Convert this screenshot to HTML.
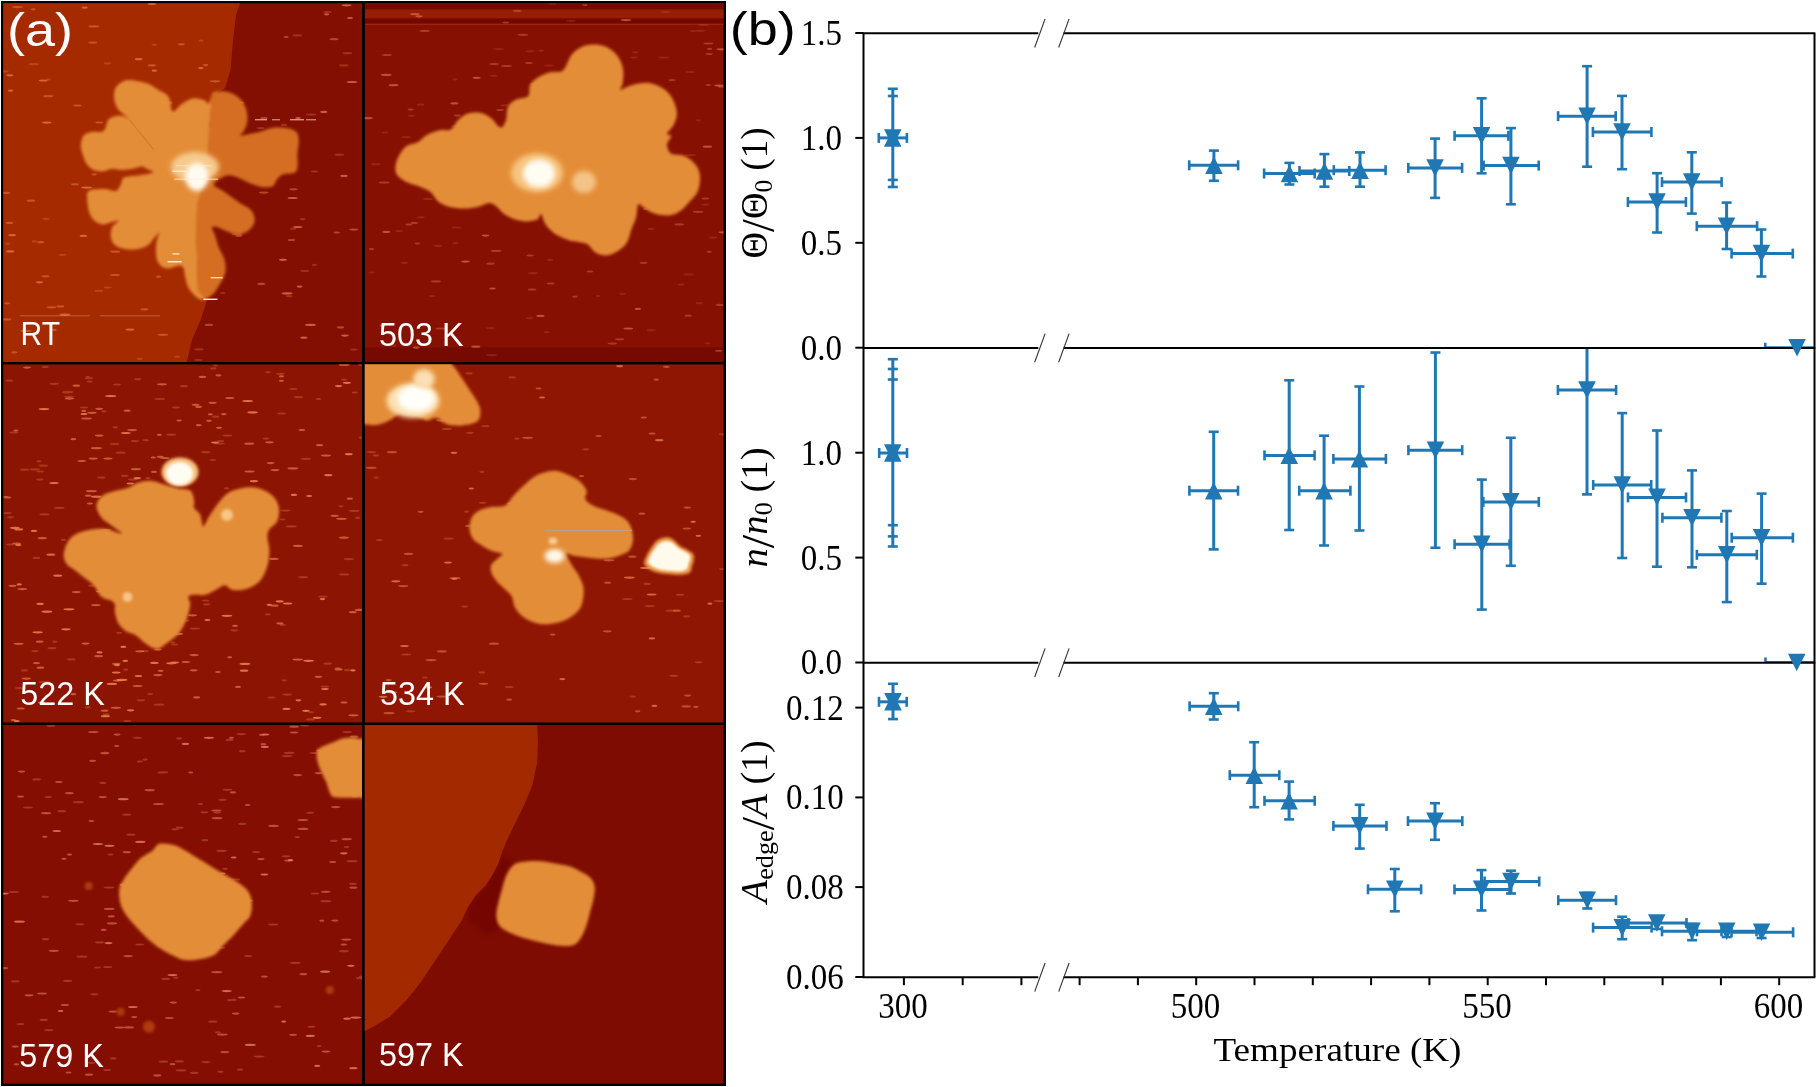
<!DOCTYPE html>
<html><head><meta charset="utf-8"><title>Figure</title>
<style>html,body{margin:0;padding:0;background:#fff;}body{width:1817px;height:1087px;overflow:hidden;}svg{display:block;}</style>
</head><body>
<svg width="1817" height="1087" viewBox="0 0 1817 1087">
<rect x="0" y="0" width="1817" height="1087" fill="#fff"/>
<defs>
<clipPath id="c00"><rect x="3.3" y="3.3" width="358.7" height="358.7"/></clipPath>
<clipPath id="c01"><rect x="3.3" y="364.2" width="358.7" height="358.4"/></clipPath>
<clipPath id="c02"><rect x="3.3" y="724.9" width="358.7" height="358.9"/></clipPath>
<clipPath id="c10"><rect x="364.7" y="3.3" width="358.9" height="358.7"/></clipPath>
<clipPath id="c11"><rect x="364.7" y="364.2" width="358.9" height="358.4"/></clipPath>
<clipPath id="c12"><rect x="364.7" y="724.9" width="358.9" height="358.9"/></clipPath>
<filter id="b05" x="-20%" y="-50%" width="140%" height="200%"><feGaussianBlur stdDeviation="0.7"/></filter>
<filter id="b1" x="-20%" y="-20%" width="140%" height="140%"><feGaussianBlur stdDeviation="1.4"/></filter>
<filter id="b2" x="-50%" y="-50%" width="200%" height="200%"><feGaussianBlur stdDeviation="2.5"/></filter>
<filter id="b3" x="-50%" y="-50%" width="200%" height="200%"><feGaussianBlur stdDeviation="4"/></filter>
<clipPath id="rtlow"><path d="M241,0 L236,15 L233,40 L230.5,70 L225,88 L212,96 L209,130 L208,160 L203,185 L197,205 L196.5,240 L198,290 L207,300 L200.6,320 L191.9,340 L186,365 L365,365 L365,0Z"/></clipPath>
<clipPath id="rtup"><path d="M241,0 L236,15 L233,40 L230.5,70 L225,88 L212,96 L209,130 L208,160 L203,185 L197,205 L196.5,240 L198,290 L207,300 L200.6,320 L191.9,340 L186,365 L0,365 L0,0Z"/></clipPath>
</defs>
<rect x="1" y="1" width="725" height="1085" fill="#000"/>
<g clip-path="url(#c00)">
<rect x="0" y="0" width="365" height="365" fill="#820F02"/>
<path d="M241,0 L236,15 L233,40 L230.5,70 L225,88 L212,96 L209,130 L208,160 L203,185 L197,205 L196.5,240 L198,290 L207,300 L200.6,320 L191.9,340 L186,365 L0,365 L0,0Z" fill="#A62C04" filter="url(#b05)"/>
<g fill="#E8804E" filter="url(#b05)"><g opacity="0.3"><ellipse cx="98.8" cy="290.9" rx="4.3" ry="1.1"/><ellipse cx="339.2" cy="154.7" rx="5" ry="1.1"/><ellipse cx="34.3" cy="241.4" rx="2.8" ry="1.1"/><ellipse cx="190.2" cy="144.4" rx="4" ry="1.1"/><ellipse cx="122.1" cy="218.5" rx="4.9" ry="1.1"/><ellipse cx="289.2" cy="296.2" rx="3.3" ry="1.1"/><ellipse cx="107.4" cy="63.4" rx="3.3" ry="1.1"/><ellipse cx="353.7" cy="349.6" rx="3.8" ry="1.1"/><ellipse cx="84.1" cy="145.8" rx="2.6" ry="1.1"/><ellipse cx="163.2" cy="184.9" rx="3.8" ry="1.1"/><ellipse cx="48.4" cy="79.4" rx="2.6" ry="1.1"/><ellipse cx="311.2" cy="114.6" rx="5.3" ry="1.1"/><ellipse cx="152.6" cy="93.8" rx="2.5" ry="1.1"/><ellipse cx="185.8" cy="138.9" rx="3.5" ry="1.1"/><ellipse cx="284.1" cy="124.9" rx="3.1" ry="1.1"/><ellipse cx="177.1" cy="356.8" rx="3.2" ry="1.1"/><ellipse cx="33.7" cy="64.2" rx="5.2" ry="1.1"/><ellipse cx="201" cy="40.7" rx="2.6" ry="1.1"/><ellipse cx="139.7" cy="358.9" rx="2.9" ry="1.1"/><ellipse cx="134.2" cy="109.3" rx="4.1" ry="1.1"/><ellipse cx="7.7" cy="243.8" rx="2.8" ry="1.1"/><ellipse cx="154.3" cy="44.8" rx="3" ry="1.1"/><ellipse cx="314.5" cy="171.5" rx="3.6" ry="1.1"/><ellipse cx="197.6" cy="113.5" rx="3.2" ry="1.1"/><ellipse cx="297.4" cy="35.4" rx="4.8" ry="1.1"/><ellipse cx="222.6" cy="293" rx="2.8" ry="1.1"/><ellipse cx="314.5" cy="264.9" rx="2.6" ry="1.1"/><ellipse cx="107.6" cy="287.5" rx="4" ry="1.1"/><ellipse cx="343.8" cy="65.4" rx="4.8" ry="1.1"/><ellipse cx="302.7" cy="219.2" rx="2.9" ry="1.1"/><ellipse cx="304.9" cy="271" rx="4.6" ry="1.1"/><ellipse cx="110.5" cy="196.1" rx="2.6" ry="1.1"/><ellipse cx="234.8" cy="135.5" rx="4" ry="1.1"/><ellipse cx="62.5" cy="254.8" rx="3.9" ry="1.1"/><ellipse cx="260.5" cy="128.1" rx="4" ry="1.1"/><ellipse cx="198.5" cy="360" rx="4.1" ry="1.1"/><ellipse cx="293.1" cy="228.7" rx="3.3" ry="1.1"/><ellipse cx="347.5" cy="53.2" rx="4.8" ry="1.1"/><ellipse cx="160.5" cy="226.6" rx="4" ry="1.1"/><ellipse cx="46.1" cy="218.8" rx="3.7" ry="1.1"/><ellipse cx="4.7" cy="71.4" rx="3.8" ry="1.1"/><ellipse cx="131.3" cy="153.9" rx="2.9" ry="1.1"/><ellipse cx="208" cy="140.8" rx="3.4" ry="1.1"/><ellipse cx="327.6" cy="12" rx="4.2" ry="1.1"/><ellipse cx="198.9" cy="349.4" rx="4.8" ry="1.1"/></g><g opacity="0.5"><ellipse cx="51.5" cy="307.3" rx="4.8" ry="1.1"/><ellipse cx="45.6" cy="276.3" rx="3.9" ry="1.1"/><ellipse cx="286.2" cy="37" rx="2.6" ry="1.1"/><ellipse cx="158.5" cy="276.7" rx="2.5" ry="1.1"/><ellipse cx="6.6" cy="319.4" rx="4.6" ry="1.1"/><ellipse cx="263.7" cy="192.6" rx="4.8" ry="1.1"/><ellipse cx="201.6" cy="127.3" rx="4.5" ry="1.1"/><ellipse cx="334.1" cy="39.2" rx="4.4" ry="1.1"/><ellipse cx="144.4" cy="309.4" rx="3.9" ry="1.1"/><ellipse cx="151.9" cy="65.4" rx="4.1" ry="1.1"/><ellipse cx="293.5" cy="189.3" rx="4.2" ry="1.1"/><ellipse cx="75" cy="184.3" rx="4" ry="1.1"/><ellipse cx="33.2" cy="9.3" rx="2.5" ry="1.1"/><ellipse cx="92.8" cy="42.6" rx="4.4" ry="1.1"/><ellipse cx="238.8" cy="235.8" rx="3.4" ry="1.1"/><ellipse cx="181.4" cy="44.3" rx="3.4" ry="1.1"/><ellipse cx="353.7" cy="229.6" rx="4.6" ry="1.1"/><ellipse cx="291.5" cy="240" rx="3.8" ry="1.1"/><ellipse cx="215.1" cy="81.3" rx="5.2" ry="1.1"/><ellipse cx="209" cy="324.9" rx="4.3" ry="1.1"/><ellipse cx="40.8" cy="242.2" rx="3.4" ry="1.1"/><ellipse cx="9.5" cy="222.9" rx="3.7" ry="1.1"/><ellipse cx="99.4" cy="122.5" rx="4" ry="1.1"/><ellipse cx="125.6" cy="224" rx="4.8" ry="1.1"/><ellipse cx="30.8" cy="200.7" rx="4.2" ry="1.1"/><ellipse cx="167.5" cy="102.7" rx="4.9" ry="1.1"/><ellipse cx="60.3" cy="306.4" rx="3.8" ry="1.1"/><ellipse cx="94.2" cy="174.4" rx="2.8" ry="1.1"/><ellipse cx="17.5" cy="7.1" rx="5.4" ry="1.1"/><ellipse cx="263.9" cy="118.2" rx="3.7" ry="1.1"/><ellipse cx="25.9" cy="330.9" rx="5.4" ry="1.1"/><ellipse cx="237.2" cy="234.1" rx="5.3" ry="1.1"/><ellipse cx="54.1" cy="329.9" rx="2.6" ry="1.1"/><ellipse cx="93.9" cy="26.4" rx="5.4" ry="1.1"/><ellipse cx="200.3" cy="197.5" rx="5.1" ry="1.1"/><ellipse cx="7.2" cy="303.3" rx="3" ry="1.1"/><ellipse cx="48.2" cy="96.2" rx="5" ry="1.1"/><ellipse cx="205.6" cy="65.1" rx="2.8" ry="1.1"/><ellipse cx="6" cy="192.9" rx="4" ry="1.1"/><ellipse cx="336.9" cy="232.5" rx="3.2" ry="1.1"/><ellipse cx="180.9" cy="175.1" rx="3.2" ry="1.1"/><ellipse cx="124.2" cy="222.6" rx="4.7" ry="1.1"/><ellipse cx="115.1" cy="251.7" rx="5" ry="1.1"/><ellipse cx="261.4" cy="283.9" rx="4" ry="1.1"/><ellipse cx="162.9" cy="334.8" rx="5.4" ry="1.1"/><ellipse cx="340.5" cy="327.4" rx="3.7" ry="1.1"/><ellipse cx="14.4" cy="352.3" rx="3.2" ry="1.1"/><ellipse cx="77.4" cy="105.5" rx="4.1" ry="1.1"/><ellipse cx="114.9" cy="275" rx="5" ry="1.1"/></g><g opacity="0.7"><ellipse cx="326.6" cy="14.3" rx="2.6" ry="1.1"/><ellipse cx="344.9" cy="335.6" rx="3.7" ry="1.1"/><ellipse cx="46.7" cy="122.6" rx="4.7" ry="1.1"/><ellipse cx="112.1" cy="214.1" rx="5.1" ry="1.1"/><ellipse cx="171.6" cy="114" rx="5" ry="1.1"/><ellipse cx="216.1" cy="144.5" rx="3" ry="1.1"/><ellipse cx="84.7" cy="7.7" rx="3.1" ry="1.1"/><ellipse cx="86.6" cy="187.6" rx="5.4" ry="1.1"/><ellipse cx="130" cy="329.6" rx="4.5" ry="1.1"/><ellipse cx="346.6" cy="5.3" rx="4.9" ry="1.1"/><ellipse cx="344" cy="175.9" rx="3.6" ry="1.1"/><ellipse cx="152" cy="3.9" rx="4.1" ry="1.1"/><ellipse cx="200.9" cy="68.1" rx="2.8" ry="1.1"/><ellipse cx="154.3" cy="70.7" rx="2.8" ry="1.1"/><ellipse cx="83.4" cy="235.9" rx="3.7" ry="1.1"/><ellipse cx="64.8" cy="314.6" rx="5.4" ry="1.1"/><ellipse cx="9.8" cy="75.3" rx="3.5" ry="1.1"/><ellipse cx="303.8" cy="337.7" rx="3.5" ry="1.1"/><ellipse cx="135.3" cy="125.4" rx="3.4" ry="1.1"/><ellipse cx="282.9" cy="259.8" rx="4" ry="1.1"/><ellipse cx="299.6" cy="286.6" rx="3.1" ry="1.1"/><ellipse cx="292.6" cy="198" rx="5" ry="1.1"/><ellipse cx="43.2" cy="80.5" rx="4.4" ry="1.1"/><ellipse cx="350" cy="18" rx="3.1" ry="1.1"/><ellipse cx="323.8" cy="111.9" rx="3.5" ry="1.1"/><ellipse cx="10.6" cy="90.7" rx="2.7" ry="1.1"/><ellipse cx="39.5" cy="282.3" rx="3.5" ry="1.1"/><ellipse cx="298" cy="118" rx="2.8" ry="1.1"/><ellipse cx="297.8" cy="227" rx="4.5" ry="1.1"/><ellipse cx="12.1" cy="235.2" rx="3.8" ry="1.1"/><ellipse cx="10.1" cy="251.4" rx="4.2" ry="1.1"/><ellipse cx="352.1" cy="82" rx="5.3" ry="1.1"/><ellipse cx="310.4" cy="324.9" rx="5.4" ry="1.1"/><ellipse cx="138.6" cy="59.2" rx="3.8" ry="1.1"/><ellipse cx="240.2" cy="102.9" rx="3.6" ry="1.1"/><ellipse cx="287.1" cy="293.4" rx="5.4" ry="1.1"/></g></g>
<g filter="url(#b1)"><path d="M114.2,92.3 C114.7,89.5 115.8,87.1 117.8,85.1 C119.8,83.1 123,81 126.2,80.3 C129.4,79.6 133.2,80.3 137,80.9 C140.8,81.5 145.3,82.4 148.9,83.9 C152.5,85.4 155.5,88.1 158.5,89.9 C161.5,91.7 164.9,92.7 166.9,94.7 C168.9,96.7 169.8,99.5 170.5,101.9 C171.2,104.3 170.5,107.4 171.1,109 C171.7,110.6 172.5,112 174,111.4 C175.5,110.8 177.8,107.2 180,105.4 C182.2,103.6 184.8,101.9 187.2,100.7 C189.6,99.5 192.3,98.6 194.4,98.3 C196.5,98 198.2,98.6 200,99 C201.8,99.4 203.6,99.8 205,100.5 C206.4,101.2 207.4,104.4 208.6,103.5 C209.8,102.6 210.9,96.9 212,95 C213.1,93.1 212.3,92.4 215,91.9 C217.7,91.4 223.9,90.8 228,91.9 C232.1,93 236.5,95.5 239.5,98.3 C242.5,101.1 244.7,104.7 246,108.6 C247.3,112.5 247.7,117.6 247.3,121.5 C246.9,125.4 244.6,129.5 243.4,131.8 C242.2,134.1 239.3,135.1 240,135.5 C240.7,135.9 243.9,135 247.3,134.4 C250.7,133.8 256.1,132.9 260.2,131.8 C264.3,130.7 267.5,128.6 271.8,128 C276.1,127.4 281.8,127.4 285.9,128 C290,128.6 294,129.7 296.2,131.8 C298.4,133.9 298.6,137.2 298.8,140.8 C299,144.5 297.7,149.2 297.5,153.7 C297.3,158.2 298.1,164.7 297.5,167.9 C296.9,171.1 296,171.9 293.6,173 C291.2,174.1 286.1,173.2 283.3,174.3 C280.5,175.4 278.6,177.6 276.9,179.5 C275.2,181.4 275.4,184.6 273,185.9 C270.6,187.2 266.6,187.6 262.7,187.2 C258.8,186.8 253.8,184.8 249.9,183.3 C246,181.8 243.4,179.5 239.5,178.2 C235.6,176.9 230.9,174.6 226.7,175.6 C222.4,176.6 214.7,181.5 214,184 C213.3,186.5 219.6,188.4 222.5,190.6 C225.4,192.8 228.5,194.8 231.5,197 C234.5,199.2 237.4,201.3 240.6,203.5 C243.8,205.7 248.6,207.4 250.9,210 C253.2,212.6 254.5,216.2 254.7,219 C254.9,221.8 253.9,224.3 252.2,226.7 C250.5,229 247.2,231.8 244.4,233.1 C241.6,234.4 238.6,234.8 235.4,234.4 C232.2,234 228.3,231.9 225.1,230.6 C221.9,229.3 218.3,227.1 216.1,226.7 C213.9,226.3 212.2,226.7 212,228 C211.8,229.3 213.7,231.2 214.8,234.4 C215.9,237.6 217.2,243.4 218.7,247.3 C220.2,251.2 222.6,254.2 223.8,257.6 C225,261 225.7,264.7 225.7,267.9 C225.7,271.1 225,274 223.8,277 C222.6,280 220.4,283.2 218.7,286 C217,288.8 215.7,291.6 213.5,293.7 C211.3,295.8 208.2,298 205.8,298.9 C203.4,299.8 201.5,299.8 199.3,298.9 C197.2,298 194.8,295.8 192.9,293.7 C191,291.6 189,288.9 187.7,286 C186.4,283.1 185.7,279 185,276 C184.3,273 184.5,269.7 183.5,268 C182.5,266.3 181.4,265.6 179.2,265.6 C177,265.6 173,268 170.2,268.2 C167.4,268.4 164.6,268.2 162.4,266.9 C160.2,265.6 158.4,263.3 157.3,260.5 C156.2,257.7 156.1,253.6 156,250.2 C155.9,246.8 156.3,243 157,240 C157.7,237 158.8,234 160,232 C161.2,230 164.9,227.1 164,228 C163.1,228.9 157.3,234.5 154.7,237.3 C152.1,240.1 151.1,243.1 148.3,245 C145.5,246.9 141.9,248.2 138,248.9 C134.1,249.6 128.9,249.6 125,248.9 C121.1,248.2 117.1,246.9 114.8,245 C112.5,243.1 111.3,240.3 110.9,237.3 C110.5,234.3 110.9,229.7 112.2,227 C113.5,224.3 118.6,221.9 118.6,221 C118.6,220.1 114.8,221.2 112.2,221.8 C109.6,222.4 106.2,224.6 103.2,224.4 C100.2,224.2 96.6,222.7 94.2,220.5 C91.8,218.3 90.2,215.2 89,211.5 C87.8,207.8 87.3,201.8 87.1,198.6 C86.9,195.4 86.7,193.7 87.7,192.2 C88.7,190.7 89.9,190.1 92.9,189.6 C95.9,189.1 102,188.8 105.8,189 C109.6,189.2 113.5,191.8 116,191 C118.5,190.2 119.7,186.2 121,184 C122.3,181.8 121.2,178.9 124,177.5 C126.8,176.1 133.2,176.3 138,175.5 C142.8,174.7 151.7,173.7 153,172.5 C154.3,171.3 147.9,169.5 146,168.5 C144.1,167.5 144.1,166.3 141.8,166.4 C139.5,166.5 135.6,168.2 132.2,168.8 C128.8,169.4 124.8,170 121.4,170 C118,170 114.9,168.6 111.9,168.8 C108.9,169 106.5,171 103.5,171.2 C100.5,171.4 96.7,171.2 93.9,170 C91.1,168.8 88.5,166.4 86.7,164 C84.9,161.6 84.2,158.5 83.2,155.7 C82.2,152.9 81,150.1 80.8,147.3 C80.6,144.5 81.2,141.1 82,138.9 C82.8,136.7 83.5,135.3 85.5,134.1 C87.5,132.9 91.1,132.2 93.9,131.8 C96.7,131.4 100.3,132.6 102.3,131.8 C104.3,131 104.9,129 105.9,127 C106.9,125 106.7,121.6 108.3,119.8 C109.9,118 112.8,116.8 115.4,116.2 C118,115.6 121.4,115.6 123.8,116.2 C126.2,116.8 129.4,119.8 129.8,119.8 C130.2,119.8 128,117.8 126.2,116.2 C124.4,114.6 120.9,112.6 119,110.2 C117.1,107.8 115.6,104.9 114.8,101.9 C114,98.9 113.7,95.1 114.2,92.3Z" fill="#E48D38" clip-path="url(#rtup)"/><path d="M114.2,92.3 C114.7,89.5 115.8,87.1 117.8,85.1 C119.8,83.1 123,81 126.2,80.3 C129.4,79.6 133.2,80.3 137,80.9 C140.8,81.5 145.3,82.4 148.9,83.9 C152.5,85.4 155.5,88.1 158.5,89.9 C161.5,91.7 164.9,92.7 166.9,94.7 C168.9,96.7 169.8,99.5 170.5,101.9 C171.2,104.3 170.5,107.4 171.1,109 C171.7,110.6 172.5,112 174,111.4 C175.5,110.8 177.8,107.2 180,105.4 C182.2,103.6 184.8,101.9 187.2,100.7 C189.6,99.5 192.3,98.6 194.4,98.3 C196.5,98 198.2,98.6 200,99 C201.8,99.4 203.6,99.8 205,100.5 C206.4,101.2 207.4,104.4 208.6,103.5 C209.8,102.6 210.9,96.9 212,95 C213.1,93.1 212.3,92.4 215,91.9 C217.7,91.4 223.9,90.8 228,91.9 C232.1,93 236.5,95.5 239.5,98.3 C242.5,101.1 244.7,104.7 246,108.6 C247.3,112.5 247.7,117.6 247.3,121.5 C246.9,125.4 244.6,129.5 243.4,131.8 C242.2,134.1 239.3,135.1 240,135.5 C240.7,135.9 243.9,135 247.3,134.4 C250.7,133.8 256.1,132.9 260.2,131.8 C264.3,130.7 267.5,128.6 271.8,128 C276.1,127.4 281.8,127.4 285.9,128 C290,128.6 294,129.7 296.2,131.8 C298.4,133.9 298.6,137.2 298.8,140.8 C299,144.5 297.7,149.2 297.5,153.7 C297.3,158.2 298.1,164.7 297.5,167.9 C296.9,171.1 296,171.9 293.6,173 C291.2,174.1 286.1,173.2 283.3,174.3 C280.5,175.4 278.6,177.6 276.9,179.5 C275.2,181.4 275.4,184.6 273,185.9 C270.6,187.2 266.6,187.6 262.7,187.2 C258.8,186.8 253.8,184.8 249.9,183.3 C246,181.8 243.4,179.5 239.5,178.2 C235.6,176.9 230.9,174.6 226.7,175.6 C222.4,176.6 214.7,181.5 214,184 C213.3,186.5 219.6,188.4 222.5,190.6 C225.4,192.8 228.5,194.8 231.5,197 C234.5,199.2 237.4,201.3 240.6,203.5 C243.8,205.7 248.6,207.4 250.9,210 C253.2,212.6 254.5,216.2 254.7,219 C254.9,221.8 253.9,224.3 252.2,226.7 C250.5,229 247.2,231.8 244.4,233.1 C241.6,234.4 238.6,234.8 235.4,234.4 C232.2,234 228.3,231.9 225.1,230.6 C221.9,229.3 218.3,227.1 216.1,226.7 C213.9,226.3 212.2,226.7 212,228 C211.8,229.3 213.7,231.2 214.8,234.4 C215.9,237.6 217.2,243.4 218.7,247.3 C220.2,251.2 222.6,254.2 223.8,257.6 C225,261 225.7,264.7 225.7,267.9 C225.7,271.1 225,274 223.8,277 C222.6,280 220.4,283.2 218.7,286 C217,288.8 215.7,291.6 213.5,293.7 C211.3,295.8 208.2,298 205.8,298.9 C203.4,299.8 201.5,299.8 199.3,298.9 C197.2,298 194.8,295.8 192.9,293.7 C191,291.6 189,288.9 187.7,286 C186.4,283.1 185.7,279 185,276 C184.3,273 184.5,269.7 183.5,268 C182.5,266.3 181.4,265.6 179.2,265.6 C177,265.6 173,268 170.2,268.2 C167.4,268.4 164.6,268.2 162.4,266.9 C160.2,265.6 158.4,263.3 157.3,260.5 C156.2,257.7 156.1,253.6 156,250.2 C155.9,246.8 156.3,243 157,240 C157.7,237 158.8,234 160,232 C161.2,230 164.9,227.1 164,228 C163.1,228.9 157.3,234.5 154.7,237.3 C152.1,240.1 151.1,243.1 148.3,245 C145.5,246.9 141.9,248.2 138,248.9 C134.1,249.6 128.9,249.6 125,248.9 C121.1,248.2 117.1,246.9 114.8,245 C112.5,243.1 111.3,240.3 110.9,237.3 C110.5,234.3 110.9,229.7 112.2,227 C113.5,224.3 118.6,221.9 118.6,221 C118.6,220.1 114.8,221.2 112.2,221.8 C109.6,222.4 106.2,224.6 103.2,224.4 C100.2,224.2 96.6,222.7 94.2,220.5 C91.8,218.3 90.2,215.2 89,211.5 C87.8,207.8 87.3,201.8 87.1,198.6 C86.9,195.4 86.7,193.7 87.7,192.2 C88.7,190.7 89.9,190.1 92.9,189.6 C95.9,189.1 102,188.8 105.8,189 C109.6,189.2 113.5,191.8 116,191 C118.5,190.2 119.7,186.2 121,184 C122.3,181.8 121.2,178.9 124,177.5 C126.8,176.1 133.2,176.3 138,175.5 C142.8,174.7 151.7,173.7 153,172.5 C154.3,171.3 147.9,169.5 146,168.5 C144.1,167.5 144.1,166.3 141.8,166.4 C139.5,166.5 135.6,168.2 132.2,168.8 C128.8,169.4 124.8,170 121.4,170 C118,170 114.9,168.6 111.9,168.8 C108.9,169 106.5,171 103.5,171.2 C100.5,171.4 96.7,171.2 93.9,170 C91.1,168.8 88.5,166.4 86.7,164 C84.9,161.6 84.2,158.5 83.2,155.7 C82.2,152.9 81,150.1 80.8,147.3 C80.6,144.5 81.2,141.1 82,138.9 C82.8,136.7 83.5,135.3 85.5,134.1 C87.5,132.9 91.1,132.2 93.9,131.8 C96.7,131.4 100.3,132.6 102.3,131.8 C104.3,131 104.9,129 105.9,127 C106.9,125 106.7,121.6 108.3,119.8 C109.9,118 112.8,116.8 115.4,116.2 C118,115.6 121.4,115.6 123.8,116.2 C126.2,116.8 129.4,119.8 129.8,119.8 C130.2,119.8 128,117.8 126.2,116.2 C124.4,114.6 120.9,112.6 119,110.2 C117.1,107.8 115.6,104.9 114.8,101.9 C114,98.9 113.7,95.1 114.2,92.3Z" fill="#D56E22" clip-path="url(#rtlow)"/></g>
<path d="M129.8,119.8 L140,133 L153.7,149.7" stroke="#C86A28" stroke-width="1.2" opacity="0.6" fill="none" filter="url(#b05)"/>
<ellipse cx="195" cy="167" rx="24" ry="15" fill="#F6CA8C" filter="url(#b2)"/>
<ellipse cx="197" cy="177" rx="11.5" ry="14" fill="#FFFBF0" filter="url(#b2)"/>
<g fill="#FFF0DC" filter="url(#b05)"><rect x="172.4" y="170.6" width="14" height="1.4" opacity="0.9"/><rect x="167.6" y="261" width="14" height="1.4" opacity="1"/><rect x="203.5" y="298.6" width="14" height="1.4" opacity="1"/><rect x="172.4" y="253.2" width="7" height="1.4" opacity="0.8"/><rect x="210.7" y="277" width="12" height="1.4" opacity="0.8"/><rect x="174" y="178.5" width="44" height="1.4" opacity="0.6"/><rect x="176" y="165" width="36" height="1.4" opacity="0.5"/><rect x="255" y="119" width="12" height="1.4" opacity="0.6"/><rect x="272" y="119" width="8" height="1.4" opacity="0.5"/><rect x="290" y="119" width="14" height="1.4" opacity="0.6"/><rect x="306" y="119" width="10" height="1.4" opacity="0.5"/><rect x="100" y="315" width="60" height="1.4" opacity="0.2"/><rect x="20" y="315" width="70" height="1.4" opacity="0.2"/></g>
</g>
<g clip-path="url(#c10)">
<rect x="364.7" y="0" width="365" height="365" fill="#861002"/>
<rect x="364.7" y="3" width="365" height="6.5" fill="#760900"/>
<rect x="364.7" y="9.5" width="365" height="9" fill="#951E04"/>
<rect x="364.7" y="18.5" width="365" height="4.5" fill="#730800"/>
<rect x="364.7" y="24" width="365" height="1" fill="#A0300C" opacity="0.7"/>
<rect x="364.7" y="347.5" width="365" height="16" fill="#760A00"/>
<g fill="#E87A50" filter="url(#b05)"><g opacity="0.2"><ellipse cx="707.8" cy="343.3" rx="2.7" ry="1.1"/><ellipse cx="455" cy="79.4" rx="2.6" ry="1.1"/><ellipse cx="690.5" cy="155.2" rx="5.2" ry="1.1"/><ellipse cx="491.7" cy="355.2" rx="5.4" ry="1.1"/><ellipse cx="539.3" cy="82.9" rx="3.5" ry="1.1"/><ellipse cx="681.3" cy="284.6" rx="3.5" ry="1.1"/><ellipse cx="690.5" cy="72" rx="4.7" ry="1.1"/><ellipse cx="570.9" cy="20.8" rx="4.3" ry="1.1"/><ellipse cx="635.4" cy="52.3" rx="3.3" ry="1.1"/><ellipse cx="703.4" cy="25" rx="5.2" ry="1.1"/><ellipse cx="385.1" cy="132.5" rx="3.2" ry="1.1"/><ellipse cx="394.5" cy="345.7" rx="2.6" ry="1.1"/><ellipse cx="498.6" cy="49.1" rx="5.3" ry="1.1"/><ellipse cx="552.4" cy="4" rx="4.3" ry="1.1"/><ellipse cx="375.8" cy="164.2" rx="4.8" ry="1.1"/><ellipse cx="688.4" cy="274.4" rx="5.1" ry="1.1"/><ellipse cx="665.6" cy="12" rx="4.9" ry="1.1"/><ellipse cx="713.1" cy="237.6" rx="4.6" ry="1.1"/><ellipse cx="605.4" cy="94" rx="2.9" ry="1.1"/><ellipse cx="399.1" cy="231.1" rx="4" ry="1.1"/><ellipse cx="634.1" cy="57.5" rx="3.7" ry="1.1"/><ellipse cx="404.6" cy="262.9" rx="3.2" ry="1.1"/><ellipse cx="371.8" cy="272.5" rx="2.8" ry="1.1"/><ellipse cx="700.4" cy="30.8" rx="4.8" ry="1.1"/><ellipse cx="406.2" cy="137.2" rx="4.6" ry="1.1"/><ellipse cx="635.2" cy="145" rx="2.9" ry="1.1"/><ellipse cx="699.2" cy="303.2" rx="3.4" ry="1.1"/><ellipse cx="420.8" cy="217.3" rx="4.1" ry="1.1"/><ellipse cx="427.9" cy="198.9" rx="4.9" ry="1.1"/><ellipse cx="651.3" cy="330.2" rx="4.5" ry="1.1"/><ellipse cx="550.1" cy="259.9" rx="3.3" ry="1.1"/><ellipse cx="622.7" cy="293.8" rx="3.6" ry="1.1"/><ellipse cx="493.9" cy="199.7" rx="4.6" ry="1.1"/><ellipse cx="432.1" cy="296.1" rx="3.6" ry="1.1"/><ellipse cx="598" cy="296" rx="2.6" ry="1.1"/><ellipse cx="626.5" cy="220.8" rx="5.2" ry="1.1"/><ellipse cx="549" cy="65.6" rx="4.6" ry="1.1"/><ellipse cx="490.4" cy="328.2" rx="4.1" ry="1.1"/><ellipse cx="529.5" cy="318.1" rx="3.9" ry="1.1"/><ellipse cx="456.3" cy="227.5" rx="5" ry="1.1"/><ellipse cx="420.6" cy="104.7" rx="3.9" ry="1.1"/><ellipse cx="438.1" cy="245.9" rx="4" ry="1.1"/><ellipse cx="538.3" cy="196.5" rx="5.2" ry="1.1"/><ellipse cx="599.2" cy="144.3" rx="5" ry="1.1"/><ellipse cx="547.2" cy="78.8" rx="4.3" ry="1.1"/><ellipse cx="651.1" cy="228.9" rx="3.4" ry="1.1"/><ellipse cx="705.5" cy="204.6" rx="4.1" ry="1.1"/><ellipse cx="530.2" cy="51.3" rx="4.7" ry="1.1"/><ellipse cx="698.3" cy="120.3" rx="2.8" ry="1.1"/><ellipse cx="533" cy="273.2" rx="5" ry="1.1"/><ellipse cx="504.6" cy="105.4" rx="4.4" ry="1.1"/><ellipse cx="493.8" cy="75.8" rx="4" ry="1.1"/><ellipse cx="454.5" cy="126.2" rx="3.2" ry="1.1"/><ellipse cx="693.1" cy="31" rx="3.4" ry="1.1"/><ellipse cx="455.5" cy="243.2" rx="3.2" ry="1.1"/><ellipse cx="541.3" cy="50.6" rx="2.8" ry="1.1"/><ellipse cx="546.7" cy="332.2" rx="3" ry="1.1"/><ellipse cx="663.8" cy="57.6" rx="5.4" ry="1.1"/><ellipse cx="411.5" cy="115.8" rx="3.4" ry="1.1"/></g><g opacity="0.4"><ellipse cx="494.3" cy="64" rx="4.9" ry="1.1"/><ellipse cx="705.4" cy="198.5" rx="3.8" ry="1.1"/><ellipse cx="688.1" cy="315.7" rx="3.6" ry="1.1"/><ellipse cx="565.9" cy="88" rx="2.6" ry="1.1"/><ellipse cx="606.8" cy="68.5" rx="5.2" ry="1.1"/><ellipse cx="663.1" cy="130.3" rx="5.1" ry="1.1"/><ellipse cx="490.6" cy="263.7" rx="4.2" ry="1.1"/><ellipse cx="679.3" cy="224.4" rx="4.8" ry="1.1"/><ellipse cx="566.5" cy="185.3" rx="4.3" ry="1.1"/><ellipse cx="590" cy="271.5" rx="3.4" ry="1.1"/><ellipse cx="534.4" cy="84.2" rx="4.5" ry="1.1"/><ellipse cx="550.7" cy="283.5" rx="4" ry="1.1"/><ellipse cx="721.6" cy="86.7" rx="3.8" ry="1.1"/><ellipse cx="551.6" cy="169.9" rx="3.4" ry="1.1"/><ellipse cx="440.9" cy="328.5" rx="5.4" ry="1.1"/><ellipse cx="517.4" cy="10.9" rx="4.3" ry="1.1"/><ellipse cx="698.1" cy="211.8" rx="5.3" ry="1.1"/><ellipse cx="496.2" cy="250.9" rx="5.3" ry="1.1"/><ellipse cx="371.5" cy="249.1" rx="2.8" ry="1.1"/><ellipse cx="435.9" cy="281.4" rx="5" ry="1.1"/><ellipse cx="584.9" cy="5.2" rx="2.6" ry="1.1"/><ellipse cx="408.8" cy="224.5" rx="3.5" ry="1.1"/><ellipse cx="709.1" cy="251.8" rx="2.6" ry="1.1"/><ellipse cx="643.6" cy="262.8" rx="4" ry="1.1"/><ellipse cx="709.1" cy="54" rx="3.6" ry="1.1"/><ellipse cx="553.6" cy="174.6" rx="5.4" ry="1.1"/><ellipse cx="575" cy="296.7" rx="2.8" ry="1.1"/><ellipse cx="410.8" cy="109.6" rx="3.2" ry="1.1"/><ellipse cx="718.8" cy="350.8" rx="3.8" ry="1.1"/><ellipse cx="530.1" cy="255.5" rx="3.7" ry="1.1"/><ellipse cx="645.7" cy="209" rx="2.9" ry="1.1"/><ellipse cx="505.7" cy="22.5" rx="3.3" ry="1.1"/><ellipse cx="619.7" cy="339.3" rx="4.6" ry="1.1"/><ellipse cx="477" cy="191.1" rx="5.2" ry="1.1"/><ellipse cx="504.7" cy="203.4" rx="4.9" ry="1.1"/><ellipse cx="414.2" cy="222.9" rx="3.8" ry="1.1"/><ellipse cx="635.6" cy="177.3" rx="4.5" ry="1.1"/><ellipse cx="584.9" cy="128" rx="4.8" ry="1.1"/><ellipse cx="384.1" cy="182.5" rx="5.5" ry="1.1"/><ellipse cx="496.2" cy="196.3" rx="3.6" ry="1.1"/><ellipse cx="457.3" cy="115.6" rx="3.5" ry="1.1"/><ellipse cx="708.4" cy="43.5" rx="5" ry="1.1"/><ellipse cx="672.1" cy="80" rx="3.6" ry="1.1"/><ellipse cx="528.9" cy="63" rx="3.8" ry="1.1"/><ellipse cx="591.9" cy="146.9" rx="5" ry="1.1"/><ellipse cx="612.3" cy="343.6" rx="4.7" ry="1.1"/><ellipse cx="555.6" cy="231.8" rx="2.7" ry="1.1"/><ellipse cx="506.5" cy="66" rx="5.4" ry="1.1"/><ellipse cx="522.9" cy="34.8" rx="5.3" ry="1.1"/><ellipse cx="709.5" cy="48.9" rx="2.6" ry="1.1"/><ellipse cx="424.7" cy="30.9" rx="5.1" ry="1.1"/><ellipse cx="646" cy="122.1" rx="2.9" ry="1.1"/><ellipse cx="386.8" cy="55" rx="5.1" ry="1.1"/><ellipse cx="708.3" cy="85" rx="2.7" ry="1.1"/><ellipse cx="579.2" cy="214.2" rx="4.1" ry="1.1"/><ellipse cx="719.6" cy="304.9" rx="3.9" ry="1.1"/><ellipse cx="503.2" cy="165.7" rx="5.1" ry="1.1"/><ellipse cx="417.4" cy="243.5" rx="2.8" ry="1.1"/><ellipse cx="382.6" cy="325.7" rx="3.2" ry="1.1"/><ellipse cx="485.9" cy="192.9" rx="3.2" ry="1.1"/><ellipse cx="532.1" cy="289.5" rx="4.3" ry="1.1"/><ellipse cx="500.1" cy="110" rx="3.8" ry="1.1"/><ellipse cx="566.6" cy="172.9" rx="3.4" ry="1.1"/></g><g opacity="0.6"><ellipse cx="723.5" cy="232.3" rx="4.9" ry="1.1"/><ellipse cx="427" cy="186.3" rx="3.6" ry="1.1"/><ellipse cx="628.3" cy="328.5" rx="4.8" ry="1.1"/><ellipse cx="707.4" cy="146.7" rx="4.7" ry="1.1"/><ellipse cx="454.4" cy="103.4" rx="4" ry="1.1"/><ellipse cx="475.8" cy="346.7" rx="4.6" ry="1.1"/><ellipse cx="476.6" cy="77.8" rx="4" ry="1.1"/><ellipse cx="419" cy="16.3" rx="3.5" ry="1.1"/><ellipse cx="416.3" cy="347.6" rx="3.3" ry="1.1"/><ellipse cx="393.6" cy="85.2" rx="4.9" ry="1.1"/><ellipse cx="619.3" cy="95.3" rx="3.8" ry="1.1"/><ellipse cx="496.1" cy="189.5" rx="5.3" ry="1.1"/><ellipse cx="386.2" cy="231.9" rx="3.9" ry="1.1"/><ellipse cx="522.2" cy="191.3" rx="2.8" ry="1.1"/><ellipse cx="638" cy="308.9" rx="3.2" ry="1.1"/><ellipse cx="631.8" cy="213.6" rx="3.1" ry="1.1"/><ellipse cx="492.5" cy="288.5" rx="3.2" ry="1.1"/><ellipse cx="465.5" cy="261.6" rx="4.3" ry="1.1"/><ellipse cx="367.7" cy="118.2" rx="5" ry="1.1"/><ellipse cx="626" cy="20.1" rx="5.3" ry="1.1"/><ellipse cx="523.9" cy="100.8" rx="3.5" ry="1.1"/><ellipse cx="668.1" cy="124.6" rx="4.8" ry="1.1"/><ellipse cx="540.5" cy="315.9" rx="4.1" ry="1.1"/><ellipse cx="721.9" cy="49.3" rx="5.3" ry="1.1"/><ellipse cx="414.8" cy="14.2" rx="4.6" ry="1.1"/><ellipse cx="386.3" cy="74.9" rx="5.3" ry="1.1"/><ellipse cx="485.6" cy="235.6" rx="3.7" ry="1.1"/><ellipse cx="718.9" cy="85.5" rx="4.6" ry="1.1"/></g></g>
<path d="M395.5,166.2 C395.8,162.8 397.3,158.6 399.2,155.2 C401.1,151.8 403.5,148.2 406.6,146 C409.7,143.8 414.2,144.2 417.6,142.3 C421,140.5 423.1,136.9 426.8,134.9 C430.5,132.9 435.7,131.2 439.7,130.3 C443.7,129.4 447.6,131.1 450.7,129.4 C453.8,127.7 455.3,122.8 458.1,120.2 C460.9,117.6 463.6,114.9 467.3,113.7 C471,112.5 476.2,112 480.2,112.8 C484.2,113.6 487.8,115.8 491.2,118.3 C494.6,120.8 497.9,127.3 500.4,127.6 C502.9,127.9 504.8,123.6 506,120.2 C507.2,116.8 506.3,110.7 507.8,107.3 C509.3,103.9 511.8,101.7 515.2,99.9 C518.6,98.1 525.5,98.8 528,96.3 C530.5,93.8 528.4,88.3 529.9,85.2 C531.4,82.1 533.8,80.1 537.2,77.9 C540.6,75.8 545.8,73.5 550.1,72.3 C554.4,71.1 559.4,73.5 563,70.5 C566.6,67.5 568.3,58.5 572,54.3 C575.7,50.1 580.1,47 585.2,45.5 C590.4,44 597.8,44 602.9,45.5 C608,47 612.8,50.6 616.1,54.3 C619.4,58 621.7,62.7 622.8,67.5 C623.9,72.3 623.2,79.3 622.8,83 C622.4,86.7 619,89.2 620.5,89.6 C622,90 626.8,86.3 631.6,85.2 C636.4,84.1 643.8,82.3 649.3,83 C654.8,83.7 660.7,86.6 664.7,89.6 C668.7,92.5 671.5,96.7 673.5,100.7 C675.5,104.8 676.9,109.9 676.9,113.9 C676.9,118 675.1,121.7 673.5,125 C671.9,128.3 667.4,132 667,133.8 C666.6,135.6 671.3,134.2 671.3,136 C671.3,137.8 667,141.9 667,144.8 C667,147.8 668.4,151.8 671.3,153.7 C674.2,155.5 680.5,154.1 684.6,155.9 C688.7,157.7 693,161.4 695.6,164.7 C698.2,168 699.6,171.4 700,175.8 C700.4,180.2 699.6,186.8 697.8,191.2 C696,195.6 691.9,199 689,202.3 C686.1,205.6 683.5,208.9 680.2,211.1 C676.9,213.3 673.5,215.1 669.1,215.5 C664.7,215.9 658.1,214.8 653.7,213.3 C649.3,211.8 645.2,208.2 642.6,206.7 C640,205.2 639.3,202.7 638.2,204.5 C637.1,206.3 637.1,213.6 636,217.7 C634.9,221.8 633.1,224.8 631.6,228.8 C630.1,232.9 629.4,238.3 627.2,242 C625,245.7 621.6,248.6 618.3,250.8 C615,253 611,254.9 607.3,255.3 C603.6,255.7 599.6,254.8 596.3,253 C593,251.2 590.3,246 587.4,244.2 C584.5,242.4 581.9,242.7 578.6,242 C575.3,241.3 571.5,241.3 567.5,239.8 C563.5,238.3 558,235.8 554.3,233.2 C550.6,230.6 547.7,227.5 545.5,224.3 C543.3,221.1 542.4,214.8 541,214 C539.6,213.2 539.7,218.4 537.2,219.6 C534.7,220.8 529.9,221.4 526.2,221.4 C522.5,221.4 518.9,220.8 515.2,219.6 C511.5,218.4 507.2,216.2 504.1,214.1 C501,211.9 499.2,208.5 496.8,206.7 C494.4,204.8 492.5,203 489.4,203 C486.3,203 482.6,205.8 478.3,206.7 C474,207.6 468.5,208.5 463.6,208.5 C458.7,208.5 453.2,207.9 448.9,206.7 C444.6,205.5 441,203.6 437.9,201.2 C434.8,198.8 433.6,194.4 430.5,192 C427.4,189.6 423.1,188 419.4,186.5 C415.7,185 412.1,184.7 408.4,182.8 C404.7,181 399.5,178.2 397.4,175.4 C395.2,172.6 395.2,169.6 395.5,166.2Z" fill="#E48D38" filter="url(#b1)"/>
<ellipse cx="537" cy="172.7" rx="26" ry="19.5" fill="#F6C47E" filter="url(#b2)"/>
<ellipse cx="539" cy="173.5" rx="16" ry="14" fill="#FFFCF2" filter="url(#b2)"/>
<ellipse cx="584" cy="182" rx="12" ry="11" fill="#F4C486" filter="url(#b2)"/>
</g>
<g clip-path="url(#c01)">
<rect x="0" y="364.2" width="365" height="365" fill="#8C1402"/>
<g fill="#F08A58" filter="url(#b05)"><g opacity="0.3"><ellipse cx="197.3" cy="561.2" rx="3.7" ry="1.1"/><ellipse cx="145" cy="651.2" rx="3.8" ry="1.1"/><ellipse cx="318.5" cy="399.1" rx="2.9" ry="1.1"/><ellipse cx="213.2" cy="573.6" rx="5.2" ry="1.1"/><ellipse cx="310.5" cy="719.4" rx="4.5" ry="1.1"/><ellipse cx="35.1" cy="651.1" rx="3.7" ry="1.1"/><ellipse cx="10.5" cy="517.3" rx="3.7" ry="1.1"/><ellipse cx="87.9" cy="377.1" rx="2.5" ry="1.1"/><ellipse cx="7.4" cy="513" rx="4.2" ry="1.1"/><ellipse cx="268" cy="372.2" rx="2.7" ry="1.1"/><ellipse cx="306" cy="458.9" rx="4.9" ry="1.1"/><ellipse cx="280.3" cy="373.8" rx="4.2" ry="1.1"/><ellipse cx="114.5" cy="444" rx="4.9" ry="1.1"/><ellipse cx="120.9" cy="607.2" rx="4.4" ry="1.1"/><ellipse cx="39.8" cy="479.6" rx="3.5" ry="1.1"/><ellipse cx="84" cy="407.5" rx="4.1" ry="1.1"/><ellipse cx="150.2" cy="694.1" rx="3" ry="1.1"/><ellipse cx="159.1" cy="704.7" rx="5.3" ry="1.1"/><ellipse cx="348.9" cy="559.1" rx="5.2" ry="1.1"/><ellipse cx="311.1" cy="712.2" rx="2.9" ry="1.1"/><ellipse cx="19.5" cy="688.1" rx="4.6" ry="1.1"/><ellipse cx="324.9" cy="686.6" rx="4.2" ry="1.1"/><ellipse cx="175.9" cy="407.5" rx="4" ry="1.1"/><ellipse cx="174.5" cy="644.6" rx="3.6" ry="1.1"/><ellipse cx="47.1" cy="682.3" rx="2.9" ry="1.1"/><ellipse cx="287.3" cy="694.6" rx="4.9" ry="1.1"/><ellipse cx="92.4" cy="585.7" rx="4.1" ry="1.1"/><ellipse cx="172.9" cy="642.5" rx="2.5" ry="1.1"/><ellipse cx="235.3" cy="574.4" rx="3.6" ry="1.1"/><ellipse cx="357.7" cy="517.8" rx="2.9" ry="1.1"/><ellipse cx="260.1" cy="500.5" rx="2.7" ry="1.1"/><ellipse cx="154.1" cy="613" rx="3.9" ry="1.1"/><ellipse cx="54.8" cy="641.7" rx="2.6" ry="1.1"/><ellipse cx="205.7" cy="600.5" rx="3.6" ry="1.1"/><ellipse cx="125.8" cy="669.7" rx="2.6" ry="1.1"/><ellipse cx="186.7" cy="620.5" rx="2.8" ry="1.1"/><ellipse cx="68" cy="391.9" rx="5.5" ry="1.1"/><ellipse cx="59.3" cy="507.9" rx="5.2" ry="1.1"/><ellipse cx="344.3" cy="574.4" rx="5.1" ry="1.1"/><ellipse cx="213" cy="460" rx="3.2" ry="1.1"/><ellipse cx="132.6" cy="479.6" rx="4.8" ry="1.1"/><ellipse cx="153.4" cy="614.2" rx="4.6" ry="1.1"/><ellipse cx="284.2" cy="680.3" rx="2.6" ry="1.1"/><ellipse cx="322.9" cy="596.5" rx="4.8" ry="1.1"/><ellipse cx="347.2" cy="670.2" rx="3.2" ry="1.1"/><ellipse cx="281.6" cy="413.5" rx="4.4" ry="1.1"/><ellipse cx="69" cy="396.8" rx="4.9" ry="1.1"/><ellipse cx="165.6" cy="627.3" rx="3.5" ry="1.1"/><ellipse cx="123.4" cy="520.5" rx="4" ry="1.1"/><ellipse cx="234.4" cy="630.3" rx="4" ry="1.1"/><ellipse cx="43.7" cy="682.2" rx="5.2" ry="1.1"/><ellipse cx="24.7" cy="469.7" rx="4.7" ry="1.1"/><ellipse cx="115.4" cy="427.4" rx="2.7" ry="1.1"/><ellipse cx="39.1" cy="461.3" rx="2.7" ry="1.1"/><ellipse cx="293.5" cy="389" rx="4" ry="1.1"/><ellipse cx="282.7" cy="624.9" rx="3.1" ry="1.1"/><ellipse cx="206.7" cy="604.4" rx="3.7" ry="1.1"/><ellipse cx="215.6" cy="416.7" rx="3.7" ry="1.1"/><ellipse cx="14.1" cy="432.5" rx="4.4" ry="1.1"/><ellipse cx="227.5" cy="435.5" rx="4.8" ry="1.1"/><ellipse cx="43.3" cy="465.7" rx="4.5" ry="1.1"/><ellipse cx="51.9" cy="648.2" rx="4.4" ry="1.1"/><ellipse cx="361.2" cy="437.7" rx="2.7" ry="1.1"/><ellipse cx="160.1" cy="635.5" rx="4" ry="1.1"/><ellipse cx="285.6" cy="510.6" rx="5" ry="1.1"/><ellipse cx="274.9" cy="508.1" rx="3" ry="1.1"/><ellipse cx="133" cy="508.2" rx="5.4" ry="1.1"/><ellipse cx="63.6" cy="539.9" rx="2.7" ry="1.1"/><ellipse cx="147.9" cy="478.1" rx="2.6" ry="1.1"/><ellipse cx="89.1" cy="378.2" rx="4" ry="1.1"/><ellipse cx="226.6" cy="488.3" rx="2.9" ry="1.1"/><ellipse cx="117" cy="384.5" rx="3.8" ry="1.1"/><ellipse cx="215.7" cy="365.5" rx="2.6" ry="1.1"/><ellipse cx="10.1" cy="544.5" rx="3.9" ry="1.1"/><ellipse cx="125.3" cy="535.7" rx="3.6" ry="1.1"/><ellipse cx="34.8" cy="469.4" rx="5" ry="1.1"/><ellipse cx="343.9" cy="379.5" rx="3" ry="1.1"/><ellipse cx="298.4" cy="397.2" rx="4.6" ry="1.1"/><ellipse cx="118.1" cy="579.5" rx="4.9" ry="1.1"/><ellipse cx="360.9" cy="364.8" rx="3.1" ry="1.1"/><ellipse cx="124.7" cy="475.8" rx="3.9" ry="1.1"/><ellipse cx="89.6" cy="381.7" rx="3" ry="1.1"/><ellipse cx="213.3" cy="368.4" rx="3.2" ry="1.1"/><ellipse cx="67" cy="392.6" rx="5" ry="1.1"/><ellipse cx="303" cy="577.2" rx="4.9" ry="1.1"/><ellipse cx="45.2" cy="366.9" rx="3.4" ry="1.1"/><ellipse cx="249.5" cy="494.9" rx="4.9" ry="1.1"/><ellipse cx="220.6" cy="441" rx="3.6" ry="1.1"/><ellipse cx="123.5" cy="518.6" rx="2.8" ry="1.1"/><ellipse cx="119.2" cy="632.8" rx="3.1" ry="1.1"/><ellipse cx="171.7" cy="574.8" rx="2.6" ry="1.1"/><ellipse cx="183.9" cy="386.2" rx="3.9" ry="1.1"/><ellipse cx="171.2" cy="434.7" rx="4.8" ry="1.1"/><ellipse cx="40.4" cy="471.5" rx="3.7" ry="1.1"/><ellipse cx="271.4" cy="697.6" rx="4.1" ry="1.1"/><ellipse cx="50.5" cy="554.5" rx="4.1" ry="1.1"/><ellipse cx="327.7" cy="663.7" rx="4.3" ry="1.1"/><ellipse cx="9.3" cy="380.5" rx="4" ry="1.1"/><ellipse cx="291.3" cy="526.4" rx="5.4" ry="1.1"/><ellipse cx="101.4" cy="477.6" rx="4.3" ry="1.1"/><ellipse cx="341" cy="506.3" rx="2.6" ry="1.1"/><ellipse cx="354.9" cy="392.6" rx="3.2" ry="1.1"/><ellipse cx="267.8" cy="614.4" rx="2.8" ry="1.1"/><ellipse cx="168.9" cy="467.9" rx="4.2" ry="1.1"/><ellipse cx="87.9" cy="707.4" rx="2.9" ry="1.1"/><ellipse cx="250.8" cy="531.7" rx="3.7" ry="1.1"/><ellipse cx="54.3" cy="383.8" rx="4.8" ry="1.1"/><ellipse cx="114.9" cy="596.7" rx="2.9" ry="1.1"/><ellipse cx="282.6" cy="519.5" rx="3" ry="1.1"/><ellipse cx="104" cy="411.3" rx="2.9" ry="1.1"/><ellipse cx="140.9" cy="700.3" rx="4.3" ry="1.1"/><ellipse cx="337.9" cy="668.2" rx="3" ry="1.1"/><ellipse cx="354.2" cy="510.9" rx="5.1" ry="1.1"/><ellipse cx="36.5" cy="557.9" rx="3.8" ry="1.1"/><ellipse cx="106.2" cy="714.3" rx="3.3" ry="1.1"/><ellipse cx="219.3" cy="443.5" rx="5.5" ry="1.1"/><ellipse cx="192.9" cy="522.5" rx="4.4" ry="1.1"/><ellipse cx="24.6" cy="670.4" rx="3.7" ry="1.1"/><ellipse cx="134.8" cy="441.1" rx="4.1" ry="1.1"/><ellipse cx="180.9" cy="480.1" rx="2.5" ry="1.1"/><ellipse cx="195" cy="628.5" rx="5" ry="1.1"/><ellipse cx="71.4" cy="659.4" rx="4.3" ry="1.1"/><ellipse cx="159.8" cy="399" rx="5.4" ry="1.1"/><ellipse cx="191.2" cy="569.9" rx="2.8" ry="1.1"/><ellipse cx="229.1" cy="541.1" rx="5.1" ry="1.1"/><ellipse cx="145.8" cy="440.2" rx="3.1" ry="1.1"/><ellipse cx="120.6" cy="452.7" rx="5.1" ry="1.1"/><ellipse cx="266" cy="438.6" rx="3.4" ry="1.1"/><ellipse cx="205.9" cy="452.2" rx="4.6" ry="1.1"/><ellipse cx="127.4" cy="721" rx="3.9" ry="1.1"/><ellipse cx="44.5" cy="514.4" rx="5.1" ry="1.1"/><ellipse cx="137.7" cy="379.2" rx="3.5" ry="1.1"/></g><g opacity="0.6"><ellipse cx="173.3" cy="572.4" rx="4.3" ry="1.1"/><ellipse cx="96.3" cy="448.2" rx="5.5" ry="1.1"/><ellipse cx="86.5" cy="418.5" rx="5.3" ry="1.1"/><ellipse cx="18.6" cy="643.8" rx="5" ry="1.1"/><ellipse cx="172.9" cy="621.8" rx="5.1" ry="1.1"/><ellipse cx="95.8" cy="605.1" rx="4.8" ry="1.1"/><ellipse cx="99.1" cy="408.8" rx="3.9" ry="1.1"/><ellipse cx="218.4" cy="375.4" rx="3.1" ry="1.1"/><ellipse cx="107.9" cy="458.6" rx="4.6" ry="1.1"/><ellipse cx="115.9" cy="707.8" rx="5.2" ry="1.1"/><ellipse cx="100.6" cy="591.5" rx="4.6" ry="1.1"/><ellipse cx="160.2" cy="456.8" rx="3.4" ry="1.1"/><ellipse cx="138.4" cy="575.4" rx="2.9" ry="1.1"/><ellipse cx="170.5" cy="607.7" rx="3.6" ry="1.1"/><ellipse cx="219" cy="427.8" rx="3.1" ry="1.1"/><ellipse cx="160.6" cy="670.8" rx="3" ry="1.1"/><ellipse cx="269.5" cy="442.3" rx="4.2" ry="1.1"/><ellipse cx="116.3" cy="663.9" rx="4.2" ry="1.1"/><ellipse cx="127.2" cy="410.7" rx="3.4" ry="1.1"/><ellipse cx="178.2" cy="568.8" rx="3.7" ry="1.1"/><ellipse cx="281.4" cy="380.8" rx="2.6" ry="1.1"/><ellipse cx="179.1" cy="420.5" rx="2.7" ry="1.1"/><ellipse cx="139.7" cy="651.3" rx="4.4" ry="1.1"/><ellipse cx="22.3" cy="589.1" rx="4.8" ry="1.1"/><ellipse cx="81.7" cy="461" rx="4.3" ry="1.1"/><ellipse cx="83.8" cy="410.9" rx="2.6" ry="1.1"/><ellipse cx="137.5" cy="686" rx="4.9" ry="1.1"/><ellipse cx="194.1" cy="655.1" rx="4.6" ry="1.1"/><ellipse cx="166.2" cy="615.1" rx="5.3" ry="1.1"/><ellipse cx="135.1" cy="506.4" rx="3.6" ry="1.1"/><ellipse cx="349.9" cy="498.7" rx="3.2" ry="1.1"/><ellipse cx="274.5" cy="605.7" rx="4.1" ry="1.1"/><ellipse cx="99.2" cy="435.6" rx="4.3" ry="1.1"/><ellipse cx="338.6" cy="669.4" rx="4.1" ry="1.1"/><ellipse cx="13.3" cy="720" rx="2.7" ry="1.1"/><ellipse cx="326" cy="455.6" rx="5.1" ry="1.1"/><ellipse cx="36.5" cy="663.1" rx="3.4" ry="1.1"/><ellipse cx="198.6" cy="406.9" rx="3.3" ry="1.1"/><ellipse cx="192.6" cy="615.3" rx="4.5" ry="1.1"/><ellipse cx="275" cy="470.1" rx="4.5" ry="1.1"/><ellipse cx="195.6" cy="404.8" rx="4" ry="1.1"/><ellipse cx="235" cy="625.9" rx="2.9" ry="1.1"/><ellipse cx="154" cy="471.9" rx="3.1" ry="1.1"/><ellipse cx="273.9" cy="558.9" rx="4.7" ry="1.1"/><ellipse cx="198.7" cy="425.2" rx="3" ry="1.1"/><ellipse cx="135.9" cy="469.2" rx="5" ry="1.1"/><ellipse cx="249.6" cy="471.5" rx="5.1" ry="1.1"/><ellipse cx="16.6" cy="543.6" rx="4.4" ry="1.1"/><ellipse cx="12.5" cy="585.8" rx="4" ry="1.1"/><ellipse cx="196.6" cy="697.4" rx="3.5" ry="1.1"/><ellipse cx="281.4" cy="376.4" rx="2.7" ry="1.1"/><ellipse cx="143.7" cy="533.8" rx="2.7" ry="1.1"/><ellipse cx="78" cy="539.5" rx="2.6" ry="1.1"/><ellipse cx="73.4" cy="439.2" rx="3" ry="1.1"/><ellipse cx="89.9" cy="503.6" rx="3.1" ry="1.1"/><ellipse cx="292.9" cy="468.4" rx="5.4" ry="1.1"/><ellipse cx="98.6" cy="656.2" rx="4.4" ry="1.1"/><ellipse cx="238" cy="686.9" rx="3.1" ry="1.1"/><ellipse cx="140.4" cy="633.6" rx="4.4" ry="1.1"/><ellipse cx="185.3" cy="560.3" rx="4.1" ry="1.1"/><ellipse cx="132.2" cy="430.1" rx="4.9" ry="1.1"/><ellipse cx="85.6" cy="643.6" rx="3.9" ry="1.1"/><ellipse cx="297.8" cy="545.9" rx="4.8" ry="1.1"/><ellipse cx="318.4" cy="676.8" rx="3.8" ry="1.1"/><ellipse cx="117.7" cy="680.6" rx="4.8" ry="1.1"/><ellipse cx="217.9" cy="672" rx="2.8" ry="1.1"/><ellipse cx="42.3" cy="538.2" rx="4.5" ry="1.1"/><ellipse cx="147.8" cy="601.1" rx="4.8" ry="1.1"/><ellipse cx="343.9" cy="537.7" rx="4.8" ry="1.1"/><ellipse cx="69.5" cy="398.6" rx="4.7" ry="1.1"/><ellipse cx="270.6" cy="463.1" rx="3.8" ry="1.1"/><ellipse cx="77.1" cy="538.9" rx="4.9" ry="1.1"/><ellipse cx="353.5" cy="715.3" rx="5.1" ry="1.1"/><ellipse cx="341.5" cy="518.8" rx="5.3" ry="1.1"/><ellipse cx="192" cy="558.5" rx="3.6" ry="1.1"/><ellipse cx="105.6" cy="530.2" rx="5.2" ry="1.1"/><ellipse cx="344.1" cy="364.9" rx="5.5" ry="1.1"/><ellipse cx="15.9" cy="430.5" rx="2.5" ry="1.1"/><ellipse cx="164.7" cy="458" rx="4.5" ry="1.1"/><ellipse cx="153.3" cy="457.5" rx="2.6" ry="1.1"/><ellipse cx="92" cy="412.8" rx="4.8" ry="1.1"/><ellipse cx="185.8" cy="662" rx="4.2" ry="1.1"/><ellipse cx="188.1" cy="497.2" rx="4.4" ry="1.1"/><ellipse cx="39.7" cy="641.7" rx="3.8" ry="1.1"/><ellipse cx="210.3" cy="414.3" rx="2.6" ry="1.1"/><ellipse cx="178.2" cy="464.5" rx="4.6" ry="1.1"/><ellipse cx="178" cy="633.9" rx="5" ry="1.1"/><ellipse cx="73.3" cy="694.2" rx="3" ry="1.1"/><ellipse cx="344" cy="702.5" rx="3.5" ry="1.1"/><ellipse cx="202.4" cy="376.9" rx="3.8" ry="1.1"/><ellipse cx="229.7" cy="657.3" rx="2.5" ry="1.1"/><ellipse cx="352.8" cy="612.2" rx="3.8" ry="1.1"/><ellipse cx="20.8" cy="708.5" rx="4.1" ry="1.1"/><ellipse cx="6" cy="497.1" rx="2.9" ry="1.1"/><ellipse cx="91.5" cy="491.2" rx="5.4" ry="1.1"/><ellipse cx="40.5" cy="667.7" rx="3.9" ry="1.1"/><ellipse cx="193.7" cy="670.3" rx="3.8" ry="1.1"/><ellipse cx="167" cy="501.8" rx="4.8" ry="1.1"/><ellipse cx="209" cy="420.8" rx="2.9" ry="1.1"/><ellipse cx="359" cy="609.9" rx="4.1" ry="1.1"/><ellipse cx="279.9" cy="623.4" rx="3.5" ry="1.1"/><ellipse cx="104.6" cy="710.7" rx="3.9" ry="1.1"/><ellipse cx="153" cy="561.3" rx="4.3" ry="1.1"/><ellipse cx="157.9" cy="675.1" rx="4.6" ry="1.1"/><ellipse cx="7.6" cy="497.5" rx="3.6" ry="1.1"/><ellipse cx="223.8" cy="414.2" rx="2.7" ry="1.1"/><ellipse cx="159.4" cy="434.8" rx="2.6" ry="1.1"/><ellipse cx="161.6" cy="608.8" rx="2.9" ry="1.1"/><ellipse cx="157.8" cy="649.5" rx="3.6" ry="1.1"/><ellipse cx="301.9" cy="430" rx="3.3" ry="1.1"/><ellipse cx="76.3" cy="592.1" rx="4.3" ry="1.1"/><ellipse cx="26.4" cy="678.6" rx="4.7" ry="1.1"/><ellipse cx="27" cy="367.6" rx="3.9" ry="1.1"/><ellipse cx="229.8" cy="398" rx="4.5" ry="1.1"/><ellipse cx="319.5" cy="445.2" rx="3.5" ry="1.1"/><ellipse cx="297.7" cy="659.6" rx="5.3" ry="1.1"/><ellipse cx="51" cy="554.7" rx="4.4" ry="1.1"/><ellipse cx="76.3" cy="385.7" rx="3.8" ry="1.1"/><ellipse cx="88.2" cy="495.7" rx="3.2" ry="1.1"/><ellipse cx="93.2" cy="458.6" rx="4.6" ry="1.1"/><ellipse cx="144.7" cy="557.6" rx="4.3" ry="1.1"/><ellipse cx="162" cy="384.3" rx="4.9" ry="1.1"/><ellipse cx="179.1" cy="571.7" rx="3.3" ry="1.1"/><ellipse cx="249.2" cy="443.7" rx="5" ry="1.1"/><ellipse cx="212.6" cy="402.8" rx="4.1" ry="1.1"/><ellipse cx="174.7" cy="557.5" rx="5.1" ry="1.1"/><ellipse cx="119.3" cy="511.2" rx="5.3" ry="1.1"/><ellipse cx="334.6" cy="515.8" rx="4.2" ry="1.1"/><ellipse cx="154.9" cy="496.8" rx="3" ry="1.1"/></g><g opacity="0.8"><ellipse cx="88.7" cy="559.3" rx="3.6" ry="1.1"/><ellipse cx="269.2" cy="604.8" rx="2.7" ry="1.1"/><ellipse cx="154.4" cy="662.9" rx="4.2" ry="1.1"/><ellipse cx="253.9" cy="481.2" rx="4.1" ry="1.1"/><ellipse cx="207.4" cy="620" rx="3.1" ry="1.1"/><ellipse cx="19.2" cy="584.4" rx="2.6" ry="1.1"/><ellipse cx="122" cy="679.9" rx="5.4" ry="1.1"/><ellipse cx="138.4" cy="676" rx="3.7" ry="1.1"/><ellipse cx="247.6" cy="401" rx="5.4" ry="1.1"/><ellipse cx="348.8" cy="454.2" rx="3.9" ry="1.1"/><ellipse cx="125.3" cy="660.9" rx="2.8" ry="1.1"/><ellipse cx="170" cy="591.5" rx="3.4" ry="1.1"/><ellipse cx="174.5" cy="662.6" rx="4.4" ry="1.1"/><ellipse cx="14.9" cy="527.9" rx="4.8" ry="1.1"/><ellipse cx="241.1" cy="552.3" rx="3.7" ry="1.1"/><ellipse cx="44" cy="409.1" rx="5.4" ry="1.1"/><ellipse cx="352.9" cy="670.4" rx="2.8" ry="1.1"/><ellipse cx="18.7" cy="529.4" rx="4.5" ry="1.1"/><ellipse cx="46.9" cy="611.7" rx="5.3" ry="1.1"/><ellipse cx="287.6" cy="603.5" rx="4.7" ry="1.1"/><ellipse cx="244.9" cy="663.9" rx="5.4" ry="1.1"/><ellipse cx="110.7" cy="396" rx="5.5" ry="1.1"/><ellipse cx="338.5" cy="386.1" rx="3.5" ry="1.1"/><ellipse cx="305.9" cy="710.8" rx="3.7" ry="1.1"/><ellipse cx="37.7" cy="632.3" rx="5.2" ry="1.1"/><ellipse cx="244.1" cy="670.7" rx="4.3" ry="1.1"/><ellipse cx="99.5" cy="652.4" rx="3.1" ry="1.1"/><ellipse cx="171.2" cy="663.3" rx="5" ry="1.1"/><ellipse cx="41.7" cy="702.7" rx="3.5" ry="1.1"/><ellipse cx="322.5" cy="599.1" rx="2.9" ry="1.1"/><ellipse cx="54" cy="483" rx="4.7" ry="1.1"/><ellipse cx="18.4" cy="545.1" rx="3.2" ry="1.1"/><ellipse cx="130.3" cy="483.5" rx="3.7" ry="1.1"/><ellipse cx="57.7" cy="575.7" rx="4.5" ry="1.1"/><ellipse cx="323" cy="704.4" rx="3.6" ry="1.1"/><ellipse cx="328.3" cy="475.2" rx="4" ry="1.1"/><ellipse cx="279.7" cy="601.4" rx="4" ry="1.1"/><ellipse cx="252.5" cy="412.4" rx="5.1" ry="1.1"/><ellipse cx="261.5" cy="495.7" rx="3.6" ry="1.1"/><ellipse cx="96.1" cy="496.7" rx="5.1" ry="1.1"/><ellipse cx="184" cy="592.4" rx="2.9" ry="1.1"/><ellipse cx="286.4" cy="708.9" rx="4" ry="1.1"/><ellipse cx="65.9" cy="629.3" rx="4.7" ry="1.1"/><ellipse cx="82.2" cy="565.8" rx="3.8" ry="1.1"/><ellipse cx="34.1" cy="530.9" rx="3.2" ry="1.1"/><ellipse cx="125.8" cy="433" rx="4.8" ry="1.1"/><ellipse cx="317.1" cy="717.8" rx="4.3" ry="1.1"/><ellipse cx="309.1" cy="496" rx="3.1" ry="1.1"/><ellipse cx="130.6" cy="710.3" rx="3.6" ry="1.1"/><ellipse cx="16.7" cy="721.2" rx="3" ry="1.1"/><ellipse cx="325" cy="689" rx="3.9" ry="1.1"/><ellipse cx="68.9" cy="609.3" rx="5.5" ry="1.1"/><ellipse cx="308.6" cy="660.8" rx="5.3" ry="1.1"/><ellipse cx="40.1" cy="603.9" rx="3.6" ry="1.1"/><ellipse cx="169.8" cy="557.1" rx="3.8" ry="1.1"/><ellipse cx="117" cy="665.2" rx="2.9" ry="1.1"/><ellipse cx="215.1" cy="442.5" rx="3.9" ry="1.1"/><ellipse cx="137.3" cy="478.2" rx="3.6" ry="1.1"/><ellipse cx="123.3" cy="646.9" rx="3" ry="1.1"/><ellipse cx="136.9" cy="597.8" rx="5.1" ry="1.1"/><ellipse cx="84" cy="414" rx="3.4" ry="1.1"/><ellipse cx="346.9" cy="382.8" rx="4.1" ry="1.1"/><ellipse cx="105.4" cy="716.2" rx="4.5" ry="1.1"/><ellipse cx="84.6" cy="569.6" rx="3.5" ry="1.1"/><ellipse cx="116.2" cy="672.5" rx="4.3" ry="1.1"/><ellipse cx="298.4" cy="700.3" rx="2.9" ry="1.1"/><ellipse cx="294.1" cy="494.9" rx="3.2" ry="1.1"/><ellipse cx="226.9" cy="615.8" rx="5.4" ry="1.1"/><ellipse cx="111.9" cy="683.9" rx="5.2" ry="1.1"/></g></g>
<path d="M96.5,506 C96.5,502.5 98.7,498.8 101.4,496.4 C104.1,494 108.4,492.9 112.9,491.5 C117.4,490.1 124.2,489.1 128.4,487.7 C132.6,486.2 134.1,483.9 138,482.8 C141.9,481.7 147.1,480.6 151.6,480.9 C156.1,481.2 160.6,483.5 165.1,484.8 C169.6,486.1 174.4,487.6 178.6,488.6 C182.8,489.6 187.6,488.7 190.2,490.6 C192.8,492.5 193.4,497.3 194.1,500.2 C194.8,503.1 193.1,505.6 194.1,507.9 C195.1,510.1 198.5,511.4 199.8,513.7 C201.1,516 201.2,519.4 201.8,521.5 C202.5,523.6 202.4,527.3 203.7,526.3 C205,525.3 206.9,519.7 209.5,515.7 C212.1,511.7 216,506 219.2,502.1 C222.4,498.2 224.6,494.9 228.8,492.5 C233,490.1 239.2,488.3 244.3,487.7 C249.5,487.1 254.9,487.2 259.7,488.6 C264.5,490.1 270,493.2 273.2,496.4 C276.4,499.6 278.4,503.7 279,507.9 C279.6,512.1 278.7,518 277.1,521.5 C275.5,525 271,526.6 269.4,529.2 C267.8,531.8 267.4,533.4 267.4,536.9 C267.4,540.4 269.4,545.6 269.4,550.4 C269.4,555.2 269,560.8 267.4,565.9 C265.8,571 263.2,577.4 259.7,581.3 C256.2,585.1 250.7,587.5 246.2,589 C241.7,590.5 236.2,590.6 232.7,590 C229.2,589.4 227.6,585.4 225,585.2 C222.4,585 220.4,587.4 217.2,589 C214,590.6 209.4,593.8 205.6,594.8 C201.8,595.8 197,594.5 194.1,594.8 C191.2,595.1 189,595.2 188.3,596.8 C187.7,598.4 190.5,600.6 190.2,604.5 C189.9,608.4 188.2,615.2 186.3,620 C184.4,624.8 181.8,629.6 178.6,633.5 C175.4,637.4 170.5,640.5 167,643.1 C163.5,645.7 160.6,648.6 157.4,648.9 C154.2,649.2 151.2,647.4 147.7,645.1 C144.1,642.9 139.6,637.7 136.1,635.4 C132.6,633.1 129.4,633.4 126.5,631.5 C123.6,629.6 120.6,627 118.7,623.8 C116.8,620.6 115.5,615.4 114.9,612.2 C114.3,609 115.6,606.4 114.9,604.5 C114.2,602.6 113.2,601.9 111,600.6 C108.8,599.3 104.3,599.4 101.4,596.8 C98.5,594.2 96.5,588.4 93.6,585.2 C90.7,582 87.2,580.1 84,577.5 C80.8,574.9 77.2,572 74.3,569.7 C71.4,567.4 68.4,566.5 66.6,563.9 C64.8,561.3 63.4,558.1 63.7,554.3 C64,550.4 66.1,544.3 68.5,540.8 C70.9,537.2 74,534.9 78.2,533 C82.4,531.1 88.8,529.8 93.6,529.2 C98.4,528.6 102.9,528.6 107.1,529.2 C111.3,529.8 116.3,532.4 118.7,533 C121.1,533.6 122.9,534.3 121.6,533 C120.3,531.7 114.4,527.9 111,525.3 C107.6,522.7 103.8,520.8 101.4,517.6 C99,514.4 96.5,509.5 96.5,506Z" fill="#E48D38" filter="url(#b1)"/>
<ellipse cx="180" cy="472" rx="18.5" ry="14.5" fill="#F6C07C" filter="url(#b1)"/>
<ellipse cx="179.5" cy="473.5" rx="13.5" ry="11.5" fill="#FFFCF2" filter="url(#b1)"/>
<circle cx="227" cy="515" r="6" fill="#F6C688" filter="url(#b1)"/>
<circle cx="127.5" cy="597" r="5" fill="#F6C688" filter="url(#b1)"/>
</g>
<g clip-path="url(#c11)">
<rect x="364.7" y="364.2" width="365" height="365" fill="#8E1602"/>
<g fill="#F08A58" filter="url(#b05)"><g opacity="0.3"><ellipse cx="449.4" cy="401.2" rx="3.7" ry="1.1"/><ellipse cx="550.9" cy="596.4" rx="4.6" ry="1.1"/><ellipse cx="722.6" cy="434.3" rx="3.7" ry="1.1"/><ellipse cx="585.6" cy="449.3" rx="3.5" ry="1.1"/><ellipse cx="469.1" cy="373.4" rx="3.6" ry="1.1"/><ellipse cx="673.8" cy="675.8" rx="4.5" ry="1.1"/><ellipse cx="470" cy="432.8" rx="3.8" ry="1.1"/><ellipse cx="722.6" cy="569" rx="3.8" ry="1.1"/><ellipse cx="516.9" cy="438.7" rx="2.7" ry="1.1"/><ellipse cx="379.4" cy="540.1" rx="3.2" ry="1.1"/><ellipse cx="512.1" cy="377.4" rx="3.8" ry="1.1"/><ellipse cx="597.1" cy="517.5" rx="3.1" ry="1.1"/><ellipse cx="376.1" cy="455.4" rx="3.2" ry="1.1"/><ellipse cx="509.3" cy="687.1" rx="4.5" ry="1.1"/><ellipse cx="410.5" cy="711.3" rx="4.5" ry="1.1"/><ellipse cx="632.6" cy="696.6" rx="3.2" ry="1.1"/><ellipse cx="406.3" cy="654.5" rx="4.8" ry="1.1"/><ellipse cx="405.2" cy="565.2" rx="3.3" ry="1.1"/><ellipse cx="379.5" cy="392.8" rx="5.1" ry="1.1"/><ellipse cx="448.6" cy="538.6" rx="5.4" ry="1.1"/><ellipse cx="424.8" cy="677.5" rx="3" ry="1.1"/><ellipse cx="481.9" cy="672.4" rx="3.3" ry="1.1"/><ellipse cx="447" cy="428.9" rx="5.1" ry="1.1"/><ellipse cx="647.1" cy="583.9" rx="3.8" ry="1.1"/><ellipse cx="649.6" cy="606.1" rx="5.1" ry="1.1"/><ellipse cx="481.9" cy="471.9" rx="2.6" ry="1.1"/><ellipse cx="718.9" cy="601.1" rx="5.5" ry="1.1"/><ellipse cx="670.8" cy="610.7" rx="5.1" ry="1.1"/><ellipse cx="686.6" cy="616.4" rx="3.4" ry="1.1"/><ellipse cx="466.5" cy="511.7" rx="2.5" ry="1.1"/><ellipse cx="371.3" cy="452.1" rx="4.8" ry="1.1"/><ellipse cx="376.1" cy="477.6" rx="2.9" ry="1.1"/><ellipse cx="680.1" cy="594.8" rx="4.3" ry="1.1"/><ellipse cx="627.2" cy="599" rx="5.4" ry="1.1"/><ellipse cx="482.6" cy="502.8" rx="3.8" ry="1.1"/><ellipse cx="464.7" cy="606.6" rx="3.4" ry="1.1"/><ellipse cx="395.5" cy="405.8" rx="4.3" ry="1.1"/><ellipse cx="485.4" cy="426.1" rx="4.1" ry="1.1"/><ellipse cx="698.6" cy="662.3" rx="3.7" ry="1.1"/></g><g opacity="0.5"><ellipse cx="397" cy="371.3" rx="4.1" ry="1.1"/><ellipse cx="494" cy="643.7" rx="5" ry="1.1"/><ellipse cx="441.6" cy="696.6" rx="5" ry="1.1"/><ellipse cx="652" cy="433.5" rx="3.4" ry="1.1"/><ellipse cx="666.3" cy="366.8" rx="3.4" ry="1.1"/><ellipse cx="468.1" cy="526" rx="3.2" ry="1.1"/><ellipse cx="656.3" cy="379.7" rx="2.6" ry="1.1"/><ellipse cx="592.6" cy="522.3" rx="3.1" ry="1.1"/><ellipse cx="632.8" cy="479.1" rx="4.2" ry="1.1"/><ellipse cx="686.2" cy="706.4" rx="4.7" ry="1.1"/><ellipse cx="371.2" cy="467.8" rx="5.4" ry="1.1"/><ellipse cx="368.1" cy="380.3" rx="3" ry="1.1"/><ellipse cx="408.6" cy="553.9" rx="4.8" ry="1.1"/><ellipse cx="598.6" cy="436" rx="3.1" ry="1.1"/><ellipse cx="641.9" cy="513.7" rx="3.3" ry="1.1"/><ellipse cx="687.6" cy="695.6" rx="3.5" ry="1.1"/><ellipse cx="441.9" cy="651.4" rx="4.9" ry="1.1"/><ellipse cx="695.9" cy="706.9" rx="2.7" ry="1.1"/><ellipse cx="677" cy="610.7" rx="3.9" ry="1.1"/><ellipse cx="440.5" cy="420.4" rx="4.3" ry="1.1"/><ellipse cx="483.4" cy="683.8" rx="4.8" ry="1.1"/><ellipse cx="527.6" cy="437.8" rx="5.4" ry="1.1"/><ellipse cx="392.4" cy="692.4" rx="4.9" ry="1.1"/><ellipse cx="548.6" cy="519.7" rx="5.1" ry="1.1"/><ellipse cx="388.7" cy="680.1" rx="3.1" ry="1.1"/><ellipse cx="391.9" cy="452.2" rx="5" ry="1.1"/><ellipse cx="607.6" cy="582.7" rx="3.4" ry="1.1"/><ellipse cx="455" cy="578.2" rx="5.5" ry="1.1"/><ellipse cx="509.2" cy="699.7" rx="3" ry="1.1"/><ellipse cx="552.7" cy="634.6" rx="2.8" ry="1.1"/><ellipse cx="637.6" cy="711.3" rx="2.9" ry="1.1"/><ellipse cx="607.1" cy="631.3" rx="4.4" ry="1.1"/><ellipse cx="632.3" cy="556.7" rx="4.1" ry="1.1"/><ellipse cx="687.4" cy="507.6" rx="3.7" ry="1.1"/><ellipse cx="686.8" cy="528.5" rx="4.2" ry="1.1"/><ellipse cx="389" cy="713.2" rx="5.5" ry="1.1"/><ellipse cx="581.4" cy="476.1" rx="2.8" ry="1.1"/><ellipse cx="643.9" cy="417.5" rx="3.2" ry="1.1"/><ellipse cx="609" cy="560.3" rx="5.4" ry="1.1"/><ellipse cx="420.6" cy="511.8" rx="3.1" ry="1.1"/><ellipse cx="538.5" cy="388.5" rx="3" ry="1.1"/><ellipse cx="549.5" cy="556.8" rx="3.4" ry="1.1"/><ellipse cx="431.1" cy="660.1" rx="5.5" ry="1.1"/><ellipse cx="403.2" cy="586.1" rx="5.2" ry="1.1"/></g><g opacity="0.7"><ellipse cx="652" cy="638.4" rx="3.2" ry="1.1"/><ellipse cx="395.8" cy="581.3" rx="4.5" ry="1.1"/><ellipse cx="454" cy="452.8" rx="3.3" ry="1.1"/><ellipse cx="669.1" cy="546.4" rx="3.7" ry="1.1"/><ellipse cx="400.9" cy="386.3" rx="3.2" ry="1.1"/><ellipse cx="454.4" cy="578.8" rx="3" ry="1.1"/><ellipse cx="629.3" cy="577.6" rx="5.4" ry="1.1"/><ellipse cx="383.1" cy="696.8" rx="4.2" ry="1.1"/><ellipse cx="542.1" cy="397.5" rx="3.1" ry="1.1"/><ellipse cx="651.6" cy="594.5" rx="4.9" ry="1.1"/><ellipse cx="709.9" cy="603.7" rx="2.6" ry="1.1"/><ellipse cx="562.3" cy="679.1" rx="3.1" ry="1.1"/><ellipse cx="693.2" cy="521.8" rx="2.7" ry="1.1"/><ellipse cx="471.3" cy="488.5" rx="2.7" ry="1.1"/><ellipse cx="698.4" cy="535.8" rx="2.9" ry="1.1"/><ellipse cx="619.7" cy="366.2" rx="3.4" ry="1.1"/><ellipse cx="404.5" cy="646" rx="4.3" ry="1.1"/><ellipse cx="645.5" cy="567.9" rx="5.3" ry="1.1"/><ellipse cx="412.5" cy="393.8" rx="2.9" ry="1.1"/><ellipse cx="428.5" cy="687.4" rx="3.6" ry="1.1"/><ellipse cx="654.4" cy="705.9" rx="3" ry="1.1"/><ellipse cx="509.8" cy="503.5" rx="2.6" ry="1.1"/><ellipse cx="538.2" cy="593.6" rx="3.9" ry="1.1"/><ellipse cx="412.3" cy="381" rx="3.7" ry="1.1"/><ellipse cx="565.7" cy="612.8" rx="4.7" ry="1.1"/><ellipse cx="448" cy="562.6" rx="3.9" ry="1.1"/><ellipse cx="659.3" cy="440.2" rx="4.2" ry="1.1"/></g></g>
<path d="M360,360 L451.7,360 L451.7,364.1 L456,369.2 L461.7,377.7 L466.7,385.6 L472.5,394.2 L477.5,402 L480.3,408.5 L480.3,416.4 L477.5,421.4 L470.3,424.2 L459.6,425.7 L448.9,425 L442.4,422.1 L438.8,418.5 L434.5,417.8 L427.4,420.7 L416.7,416.4 L405.9,414.2 L398.8,413.5 L391.6,419.2 L384.5,422.8 L377.3,425 L370.2,425 L365.1,424.2 L360,424Z" fill="#E48D38" filter="url(#b1)"/>
<path d="M469.4,527.3 C469.4,523.6 470.7,519.2 472.5,516.3 C474.3,513.4 477.2,511.6 480.3,510 C483.4,508.4 487.1,507.7 491.3,506.9 C495.5,506.1 501.8,507.2 505.4,505.4 C509,503.6 510.3,499.1 513.2,496 C516.1,492.9 519.2,489.7 522.6,486.6 C526,483.5 529.9,479.6 533.5,477.2 C537.1,474.8 540.6,473.6 544.5,472.5 C548.4,471.4 552.8,470.4 557,470.9 C561.2,471.4 565.6,473.8 569.5,475.6 C573.4,477.4 577.5,479.3 580.4,481.9 C583.3,484.5 585.9,488.4 586.7,491.3 C587.5,494.2 584.1,496.8 585.1,499.1 C586.1,501.5 589.5,503.6 592.9,505.4 C596.3,507.2 601.2,508.4 605.4,510 C609.6,511.6 614.4,512.9 618,514.7 C621.6,516.5 625,518.4 627.3,521 C629.6,523.6 631.1,527 632,530.4 C632.9,533.8 633.3,537.9 632.8,541.3 C632.3,544.7 631.1,548.4 628.9,550.7 C626.7,553.1 622.9,554.1 619.5,555.4 C616.1,556.7 612.5,558 608.6,558.5 C604.7,559 600.3,558.8 596.1,558.5 C591.9,558.2 587.5,557.5 583.6,557 C579.7,556.5 575.5,555.9 572.6,555.4 C569.7,554.9 566.3,552 566.3,553.8 C566.3,555.6 570.5,562.6 572.6,566.3 C574.7,569.9 577.1,572.1 578.9,575.7 C580.7,579.4 583.1,583.5 583.6,588.2 C584.1,592.9 583.3,599.7 582,603.9 C580.7,608.1 578.8,610.4 575.7,613.3 C572.6,616.2 567.9,619.3 563.2,621.1 C558.5,622.9 552.3,623.9 547.6,624.2 C542.9,624.5 539.3,624 535.1,622.7 C530.9,621.4 526,619 522.6,616.4 C519.2,613.8 516.5,610.4 514.7,607 C512.9,603.6 513.4,599.2 511.6,596.1 C509.8,593 506.4,590.8 503.8,588.2 C501.2,585.6 498.1,583 496,580.4 C493.9,577.8 492.1,575.2 491.3,572.6 C490.5,570 490.3,567.1 491.3,564.8 C492.3,562.4 495.7,560.3 497.5,558.5 C499.3,556.7 503.2,555.1 502.2,553.8 C501.2,552.5 494.9,552.2 491.3,550.7 C487.7,549.2 483.4,546.6 480.3,544.5 C477.2,542.4 474.3,541.1 472.5,538.2 C470.7,535.3 469.4,530.9 469.4,527.3Z" fill="#E48D38" filter="url(#b1)"/>
<path d="M644.2,562.5 C644.3,560.7 645.5,557.9 646.7,555.4 C647.9,552.9 649.6,550.2 651.3,547.7 C653,545.2 654.8,542.3 657,540.6 C659.2,538.9 662.3,537.7 664.8,537.4 C667.3,537.1 669.9,537.7 671.9,538.7 C673.9,539.7 675.4,541.8 677,543.2 C678.6,544.6 679.7,545.9 681.5,547.1 C683.3,548.3 686.1,549.1 688,550.3 C689.9,551.5 692.1,552.5 693.1,554.1 C694.1,555.7 694,557.9 693.8,559.9 C693.6,561.9 692.3,564.5 691.8,566.4 C691.2,568.3 691.5,570.2 690.5,571.5 C689.5,572.8 688,573.6 686,574.1 C684,574.6 681.2,574.8 678.3,574.8 C675.4,574.8 671.8,574.4 668.6,574.1 C665.4,573.8 661.9,573.4 659,572.8 C656.1,572.1 653.4,571.3 651.3,570.2 C649.1,569.1 647.3,567.7 646.1,566.4 C644.9,565.1 644.1,564.3 644.2,562.5Z" fill="#F0A050" filter="url(#b1)"/>
<path d="M644.2,562.5 C644.3,560.7 645.5,557.9 646.7,555.4 C647.9,552.9 649.6,550.2 651.3,547.7 C653,545.2 654.8,542.3 657,540.6 C659.2,538.9 662.3,537.7 664.8,537.4 C667.3,537.1 669.9,537.7 671.9,538.7 C673.9,539.7 675.4,541.8 677,543.2 C678.6,544.6 679.7,545.9 681.5,547.1 C683.3,548.3 686.1,549.1 688,550.3 C689.9,551.5 692.1,552.5 693.1,554.1 C694.1,555.7 694,557.9 693.8,559.9 C693.6,561.9 692.3,564.5 691.8,566.4 C691.2,568.3 691.5,570.2 690.5,571.5 C689.5,572.8 688,573.6 686,574.1 C684,574.6 681.2,574.8 678.3,574.8 C675.4,574.8 671.8,574.4 668.6,574.1 C665.4,573.8 661.9,573.4 659,572.8 C656.1,572.1 653.4,571.3 651.3,570.2 C649.1,569.1 647.3,567.7 646.1,566.4 C644.9,565.1 644.1,564.3 644.2,562.5Z" fill="#FFFAEC" transform="translate(669.5,557) scale(0.84,0.8) translate(-669.5,-557)" filter="url(#b1)"/>
<ellipse cx="413" cy="400.6" rx="26.5" ry="17.5" fill="#FBE0B0" filter="url(#b2)"/>
<ellipse cx="416" cy="398.5" rx="18.6" ry="13" fill="#FFFEFA" filter="url(#b2)"/>
<ellipse cx="424" cy="379" rx="10.7" ry="10" fill="#FAE0B4" filter="url(#b2)"/>
<ellipse cx="554.6" cy="556" rx="10" ry="7" fill="#FFF8EA" filter="url(#b2)"/>
<ellipse cx="553" cy="541" rx="4.5" ry="3.5" fill="#F8CC90" filter="url(#b1)"/>
<line x1="545.2" y1="530.4" x2="632" y2="530.4" stroke="#B0A49C" stroke-width="1.2" opacity="0.9"/>
</g>
<g clip-path="url(#c02)">
<rect x="0" y="724.9" width="365" height="365" fill="#840E02"/>
<g fill="#F09070" filter="url(#b05)"><g opacity="0.3"><ellipse cx="13.7" cy="892" rx="5.3" ry="1.1"/><ellipse cx="326.5" cy="765.5" rx="3.9" ry="1.1"/><ellipse cx="139.9" cy="761.5" rx="3.2" ry="1.1"/><ellipse cx="162.9" cy="772.4" rx="5.4" ry="1.1"/><ellipse cx="78.4" cy="802.2" rx="5.4" ry="1.1"/><ellipse cx="107.1" cy="1070" rx="4.1" ry="1.1"/><ellipse cx="110.5" cy="854.5" rx="3" ry="1.1"/><ellipse cx="130.8" cy="834.7" rx="4.6" ry="1.1"/><ellipse cx="175.9" cy="977.8" rx="2.7" ry="1.1"/><ellipse cx="285.9" cy="856.3" rx="4.2" ry="1.1"/><ellipse cx="165.7" cy="978.9" rx="4.4" ry="1.1"/><ellipse cx="126.6" cy="814.7" rx="4.5" ry="1.1"/><ellipse cx="344" cy="951.2" rx="4.9" ry="1.1"/><ellipse cx="109" cy="887.5" rx="5.5" ry="1.1"/><ellipse cx="175.1" cy="829.3" rx="3.7" ry="1.1"/><ellipse cx="43.7" cy="1019.9" rx="4.1" ry="1.1"/><ellipse cx="228.2" cy="904.1" rx="3.5" ry="1.1"/><ellipse cx="346.5" cy="847" rx="3" ry="1.1"/><ellipse cx="227.2" cy="789.8" rx="4.8" ry="1.1"/><ellipse cx="229.6" cy="739.9" rx="3.9" ry="1.1"/><ellipse cx="62.8" cy="1045" rx="2.8" ry="1.1"/><ellipse cx="139.7" cy="944.5" rx="4.3" ry="1.1"/><ellipse cx="137.4" cy="737.8" rx="4.3" ry="1.1"/><ellipse cx="140.6" cy="896.1" rx="3.1" ry="1.1"/><ellipse cx="221.6" cy="850.9" rx="5.2" ry="1.1"/><ellipse cx="352.1" cy="861.2" rx="5.4" ry="1.1"/><ellipse cx="179.7" cy="827.7" rx="3.9" ry="1.1"/><ellipse cx="240.1" cy="1069.7" rx="3.2" ry="1.1"/><ellipse cx="204.3" cy="812.3" rx="3.9" ry="1.1"/><ellipse cx="319.2" cy="1046.1" rx="2.5" ry="1.1"/><ellipse cx="50.8" cy="725.9" rx="4.2" ry="1.1"/><ellipse cx="311.3" cy="1026.8" rx="3.9" ry="1.1"/><ellipse cx="235.9" cy="894.5" rx="3.4" ry="1.1"/><ellipse cx="196.3" cy="877.6" rx="4.1" ry="1.1"/><ellipse cx="27.8" cy="807.5" rx="5" ry="1.1"/><ellipse cx="241.3" cy="734.1" rx="4.7" ry="1.1"/><ellipse cx="361.4" cy="976.6" rx="2.6" ry="1.1"/><ellipse cx="81.9" cy="956.7" rx="5.4" ry="1.1"/><ellipse cx="359.9" cy="978.2" rx="3.8" ry="1.1"/><ellipse cx="79.8" cy="924.3" rx="4.5" ry="1.1"/><ellipse cx="200.5" cy="804.1" rx="2.7" ry="1.1"/><ellipse cx="94.5" cy="994.3" rx="4.1" ry="1.1"/><ellipse cx="67.6" cy="980.9" rx="4.5" ry="1.1"/><ellipse cx="188.9" cy="937.6" rx="4.2" ry="1.1"/><ellipse cx="145.2" cy="759.7" rx="2.6" ry="1.1"/><ellipse cx="333.9" cy="840.9" rx="3.9" ry="1.1"/><ellipse cx="315" cy="893.5" rx="4.2" ry="1.1"/><ellipse cx="102.8" cy="782.9" rx="3.4" ry="1.1"/><ellipse cx="107.7" cy="967" rx="4.7" ry="1.1"/><ellipse cx="15.3" cy="981.4" rx="4.2" ry="1.1"/><ellipse cx="61.9" cy="811.2" rx="4.5" ry="1.1"/><ellipse cx="235" cy="879.5" rx="5.4" ry="1.1"/><ellipse cx="169" cy="887.5" rx="4.5" ry="1.1"/><ellipse cx="206" cy="1062.1" rx="4.6" ry="1.1"/><ellipse cx="325.7" cy="901.2" rx="5.3" ry="1.1"/><ellipse cx="248.2" cy="956.1" rx="4" ry="1.1"/><ellipse cx="20.5" cy="1024" rx="3.8" ry="1.1"/><ellipse cx="287" cy="756.1" rx="5.5" ry="1.1"/><ellipse cx="217.9" cy="1032.4" rx="3.1" ry="1.1"/><ellipse cx="297.2" cy="837.2" rx="2.9" ry="1.1"/><ellipse cx="242.3" cy="823.9" rx="4" ry="1.1"/><ellipse cx="273.2" cy="924.5" rx="5.2" ry="1.1"/><ellipse cx="209.5" cy="883.6" rx="5" ry="1.1"/><ellipse cx="204.9" cy="840.2" rx="3.4" ry="1.1"/><ellipse cx="97.5" cy="967.5" rx="3.4" ry="1.1"/><ellipse cx="197.9" cy="990.1" rx="2.6" ry="1.1"/><ellipse cx="48.3" cy="797.1" rx="3.6" ry="1.1"/><ellipse cx="212.9" cy="1021.7" rx="4.7" ry="1.1"/><ellipse cx="99.5" cy="942.4" rx="4.4" ry="1.1"/><ellipse cx="163.4" cy="1061.7" rx="4.9" ry="1.1"/><ellipse cx="159" cy="883.3" rx="4.8" ry="1.1"/><ellipse cx="194.3" cy="1072.9" rx="4.3" ry="1.1"/><ellipse cx="48.8" cy="1030.1" rx="4.6" ry="1.1"/><ellipse cx="256.2" cy="852.1" rx="3.9" ry="1.1"/><ellipse cx="277.6" cy="1006.7" rx="3.6" ry="1.1"/><ellipse cx="295.4" cy="962.9" rx="5.2" ry="1.1"/><ellipse cx="225" cy="868.8" rx="2.9" ry="1.1"/><ellipse cx="179.1" cy="738.4" rx="3" ry="1.1"/><ellipse cx="174.5" cy="893.6" rx="4.1" ry="1.1"/><ellipse cx="220.4" cy="947.8" rx="4.9" ry="1.1"/><ellipse cx="347" cy="732.1" rx="4.8" ry="1.1"/><ellipse cx="113.3" cy="1058.4" rx="3.3" ry="1.1"/><ellipse cx="222.5" cy="799.8" rx="4.1" ry="1.1"/><ellipse cx="289.2" cy="752.9" rx="5.4" ry="1.1"/><ellipse cx="230.3" cy="1000" rx="3.2" ry="1.1"/><ellipse cx="217.2" cy="812.6" rx="3.8" ry="1.1"/><ellipse cx="220.4" cy="1071.8" rx="3.1" ry="1.1"/><ellipse cx="304.6" cy="725.5" rx="4.5" ry="1.1"/><ellipse cx="36.6" cy="779.4" rx="4.3" ry="1.1"/><ellipse cx="209.5" cy="883.2" rx="3.5" ry="1.1"/><ellipse cx="259.1" cy="1056.6" rx="5.4" ry="1.1"/><ellipse cx="137.6" cy="889.5" rx="4.5" ry="1.1"/><ellipse cx="91.5" cy="1062.8" rx="3.9" ry="1.1"/><ellipse cx="45.5" cy="939.2" rx="3.6" ry="1.1"/><ellipse cx="181" cy="1070.4" rx="5.3" ry="1.1"/><ellipse cx="179.3" cy="1061.4" rx="4.6" ry="1.1"/><ellipse cx="45.2" cy="896.8" rx="3.6" ry="1.1"/><ellipse cx="233.8" cy="999.9" rx="2.8" ry="1.1"/><ellipse cx="242.3" cy="751.2" rx="3.3" ry="1.1"/><ellipse cx="310.2" cy="812.8" rx="3.9" ry="1.1"/><ellipse cx="314.7" cy="753" rx="5.4" ry="1.1"/><ellipse cx="352.8" cy="883.8" rx="3.9" ry="1.1"/></g><g opacity="0.5"><ellipse cx="149.7" cy="790.2" rx="5.1" ry="1.1"/><ellipse cx="68.5" cy="1072.5" rx="3.1" ry="1.1"/><ellipse cx="4.5" cy="968.2" rx="3.5" ry="1.1"/><ellipse cx="46" cy="813.2" rx="5" ry="1.1"/><ellipse cx="126.8" cy="852.2" rx="4.1" ry="1.1"/><ellipse cx="42.1" cy="993.5" rx="4.9" ry="1.1"/><ellipse cx="16.4" cy="1064.3" rx="2.8" ry="1.1"/><ellipse cx="187.3" cy="855" rx="2.9" ry="1.1"/><ellipse cx="334.8" cy="920.6" rx="3.4" ry="1.1"/><ellipse cx="113.1" cy="1011.6" rx="4.4" ry="1.1"/><ellipse cx="23.3" cy="1053.7" rx="2.6" ry="1.1"/><ellipse cx="63.9" cy="858.8" rx="2.7" ry="1.1"/><ellipse cx="353.4" cy="887.7" rx="4" ry="1.1"/><ellipse cx="241.5" cy="997.5" rx="3.6" ry="1.1"/><ellipse cx="302.9" cy="820" rx="5.4" ry="1.1"/><ellipse cx="173.4" cy="1002.6" rx="3.5" ry="1.1"/><ellipse cx="169.4" cy="1018" rx="4.4" ry="1.1"/><ellipse cx="128.1" cy="956.1" rx="4.7" ry="1.1"/><ellipse cx="128.9" cy="1027.4" rx="5.1" ry="1.1"/><ellipse cx="354.9" cy="796.2" rx="3.6" ry="1.1"/><ellipse cx="104.8" cy="753.2" rx="4.5" ry="1.1"/><ellipse cx="64.9" cy="1005" rx="4.2" ry="1.1"/><ellipse cx="111.9" cy="923.4" rx="5.1" ry="1.1"/><ellipse cx="261.7" cy="734.8" rx="3" ry="1.1"/><ellipse cx="176.4" cy="921.7" rx="3.7" ry="1.1"/><ellipse cx="260.9" cy="859.1" rx="3.6" ry="1.1"/><ellipse cx="109.2" cy="908.9" rx="5.4" ry="1.1"/><ellipse cx="53.8" cy="950.8" rx="5.2" ry="1.1"/><ellipse cx="157.3" cy="1075.4" rx="4" ry="1.1"/><ellipse cx="217" cy="818.2" rx="5.4" ry="1.1"/><ellipse cx="93.4" cy="732" rx="5.3" ry="1.1"/><ellipse cx="91.4" cy="821" rx="3" ry="1.1"/><ellipse cx="111.2" cy="916.4" rx="3.5" ry="1.1"/><ellipse cx="321.8" cy="920.7" rx="2.5" ry="1.1"/><ellipse cx="216.7" cy="972.2" rx="5.4" ry="1.1"/><ellipse cx="325.7" cy="891.8" rx="4.8" ry="1.1"/><ellipse cx="303.3" cy="974.2" rx="3.8" ry="1.1"/><ellipse cx="174.9" cy="922" rx="4" ry="1.1"/><ellipse cx="103.7" cy="929.9" rx="2.9" ry="1.1"/><ellipse cx="318.4" cy="773.1" rx="3.8" ry="1.1"/><ellipse cx="249.2" cy="900.6" rx="3.6" ry="1.1"/><ellipse cx="293.1" cy="1034.8" rx="3.9" ry="1.1"/><ellipse cx="216.4" cy="810.5" rx="5.1" ry="1.1"/><ellipse cx="263.4" cy="744.2" rx="3" ry="1.1"/><ellipse cx="247.6" cy="805" rx="2.8" ry="1.1"/><ellipse cx="297.6" cy="775.1" rx="4.4" ry="1.1"/><ellipse cx="303.1" cy="828.9" rx="5.3" ry="1.1"/><ellipse cx="288.8" cy="860.6" rx="4.7" ry="1.1"/><ellipse cx="235.7" cy="1013.6" rx="3.8" ry="1.1"/><ellipse cx="73.5" cy="900.8" rx="5.3" ry="1.1"/><ellipse cx="58.8" cy="782" rx="3.6" ry="1.1"/><ellipse cx="15.2" cy="1046.6" rx="3.5" ry="1.1"/><ellipse cx="116.7" cy="746" rx="2.6" ry="1.1"/><ellipse cx="172.5" cy="1064.2" rx="2.9" ry="1.1"/><ellipse cx="224.8" cy="1052.1" rx="4.6" ry="1.1"/><ellipse cx="69.5" cy="854.6" rx="2.7" ry="1.1"/><ellipse cx="233.1" cy="792.4" rx="3.2" ry="1.1"/><ellipse cx="161.6" cy="853.2" rx="3.8" ry="1.1"/><ellipse cx="190.7" cy="772.5" rx="2.5" ry="1.1"/><ellipse cx="44.8" cy="836.8" rx="2.8" ry="1.1"/><ellipse cx="20.5" cy="796.6" rx="3.4" ry="1.1"/><ellipse cx="320.9" cy="750.7" rx="4.8" ry="1.1"/><ellipse cx="264.4" cy="976.6" rx="3.3" ry="1.1"/><ellipse cx="21.5" cy="771.6" rx="3.6" ry="1.1"/><ellipse cx="343.8" cy="944.5" rx="3.2" ry="1.1"/><ellipse cx="354.1" cy="736.7" rx="4.2" ry="1.1"/><ellipse cx="102.7" cy="797.1" rx="4.2" ry="1.1"/><ellipse cx="273.6" cy="825.9" rx="5.3" ry="1.1"/><ellipse cx="117.1" cy="734.6" rx="3.4" ry="1.1"/><ellipse cx="183.1" cy="920.7" rx="4.6" ry="1.1"/><ellipse cx="243.7" cy="917.5" rx="4.9" ry="1.1"/><ellipse cx="105.2" cy="752.8" rx="2.8" ry="1.1"/><ellipse cx="222.4" cy="1034.6" rx="5.3" ry="1.1"/><ellipse cx="29.1" cy="995.3" rx="4.5" ry="1.1"/><ellipse cx="89.1" cy="1074.7" rx="4.1" ry="1.1"/><ellipse cx="326" cy="1051.6" rx="4.3" ry="1.1"/><ellipse cx="119.6" cy="1027.5" rx="5.2" ry="1.1"/><ellipse cx="92.6" cy="760.8" rx="3.4" ry="1.1"/><ellipse cx="69.3" cy="793.2" rx="4.3" ry="1.1"/><ellipse cx="346.7" cy="839.2" rx="5.1" ry="1.1"/><ellipse cx="335.7" cy="807.1" rx="4.6" ry="1.1"/><ellipse cx="134.3" cy="1017.1" rx="3.1" ry="1.1"/><ellipse cx="332.7" cy="862" rx="3.4" ry="1.1"/><ellipse cx="158.4" cy="804" rx="5.5" ry="1.1"/><ellipse cx="201.8" cy="880.1" rx="3" ry="1.1"/><ellipse cx="294.1" cy="726.7" rx="4.8" ry="1.1"/><ellipse cx="294.1" cy="732.5" rx="4.2" ry="1.1"/><ellipse cx="346.3" cy="939.6" rx="5" ry="1.1"/><ellipse cx="231.4" cy="737.8" rx="2.6" ry="1.1"/></g><g opacity="0.7"><ellipse cx="226.7" cy="991.1" rx="4.9" ry="1.1"/><ellipse cx="60.6" cy="1011" rx="2.9" ry="1.1"/><ellipse cx="97.9" cy="844" rx="5" ry="1.1"/><ellipse cx="343.8" cy="853.3" rx="3.7" ry="1.1"/><ellipse cx="360.8" cy="782.9" rx="2.6" ry="1.1"/><ellipse cx="194.7" cy="870.6" rx="3.2" ry="1.1"/><ellipse cx="123.2" cy="799.2" rx="5.4" ry="1.1"/><ellipse cx="179.7" cy="909.8" rx="4.1" ry="1.1"/><ellipse cx="132.9" cy="1007" rx="4.8" ry="1.1"/><ellipse cx="353.4" cy="1068.2" rx="4.1" ry="1.1"/><ellipse cx="310.3" cy="1035.9" rx="4.6" ry="1.1"/><ellipse cx="347" cy="1018.7" rx="3.8" ry="1.1"/><ellipse cx="233.7" cy="857.5" rx="2.9" ry="1.1"/><ellipse cx="140.3" cy="841.9" rx="5.2" ry="1.1"/><ellipse cx="283.7" cy="1021.6" rx="2.5" ry="1.1"/><ellipse cx="108.5" cy="943.1" rx="3.9" ry="1.1"/><ellipse cx="265.6" cy="734.5" rx="3.5" ry="1.1"/><ellipse cx="222.3" cy="873.5" rx="3" ry="1.1"/><ellipse cx="331.4" cy="774.5" rx="3.4" ry="1.1"/><ellipse cx="229.8" cy="906.4" rx="5.2" ry="1.1"/><ellipse cx="208.9" cy="737.8" rx="5.1" ry="1.1"/><ellipse cx="348.8" cy="763.5" rx="4.1" ry="1.1"/><ellipse cx="3.5" cy="893.6" rx="5.2" ry="1.1"/><ellipse cx="19.4" cy="921.7" rx="5.5" ry="1.1"/><ellipse cx="317.2" cy="1065.9" rx="3.1" ry="1.1"/><ellipse cx="250.3" cy="1044.9" rx="5.5" ry="1.1"/><ellipse cx="172.5" cy="975.1" rx="4.9" ry="1.1"/><ellipse cx="122.9" cy="884.9" rx="3.2" ry="1.1"/><ellipse cx="290.4" cy="860" rx="2.5" ry="1.1"/><ellipse cx="355.7" cy="1017.6" rx="5.3" ry="1.1"/><ellipse cx="325.1" cy="971.7" rx="5" ry="1.1"/><ellipse cx="350.9" cy="965.8" rx="3.6" ry="1.1"/><ellipse cx="207.7" cy="949.7" rx="4.4" ry="1.1"/><ellipse cx="264.4" cy="874.5" rx="3.8" ry="1.1"/><ellipse cx="56.8" cy="831" rx="4.2" ry="1.1"/><ellipse cx="264.8" cy="746.9" rx="4" ry="1.1"/><ellipse cx="109.5" cy="845.8" rx="5" ry="1.1"/><ellipse cx="185.5" cy="743.9" rx="3.7" ry="1.1"/><ellipse cx="159.2" cy="937.9" rx="5.2" ry="1.1"/></g></g>
<path d="M119.3,889.3 C119.8,885.2 121.4,883.2 123.5,879.7 C125.6,876.2 128.7,872.3 131.7,868.6 C134.7,864.9 137.9,860.6 141.4,857.6 C144.9,854.6 149.4,853 152.4,850.7 C155.4,848.4 155.6,844.7 159.3,843.8 C163,842.9 170.1,844.1 174.5,845.2 C178.9,846.4 181.9,848.6 185.6,850.7 C189.3,852.8 192.5,855.1 196.6,857.6 C200.7,860.1 205.8,863.1 210.4,865.9 C215,868.7 219.6,871.5 224.2,874.2 C228.8,877 234.1,879.6 238,882.4 C241.9,885.1 245.4,887.5 247.7,890.7 C250,893.9 251.4,897.6 251.8,901.8 C252.2,905.9 251.8,911.9 250.4,915.6 C249,919.3 246.3,920.6 243.5,923.8 C240.7,927 237.2,931.2 233.8,934.9 C230.4,938.6 226.2,942.4 222.8,945.9 C219.4,949.4 217.6,953.3 213.2,955.6 C208.8,957.9 201.7,959 196.6,959.7 C191.5,960.4 186.7,960.4 182.8,959.7 C178.9,959 176.8,957.4 173.1,955.6 C169.4,953.8 164.6,951.2 160.7,948.7 C156.8,946.2 153.4,943.6 149.7,940.4 C146,937.2 142.3,933.3 138.6,929.4 C134.9,925.5 130.6,921 127.6,916.9 C124.6,912.8 122.1,909.1 120.7,904.5 C119.3,899.9 118.8,893.4 119.3,889.3Z" fill="#E48D38" filter="url(#b1)"/>
<path d="M317.2,750.8 C317.8,749.1 318.6,748.7 320.3,747.7 C322,746.7 324.9,745.7 327.4,744.6 C329.9,743.5 332.5,742.5 335.2,741.4 C337.9,740.3 340.8,738.9 343.8,738.3 C346.8,737.6 350.3,737.4 353.2,737.5 C356.1,737.6 358.2,738.9 361,739.1 C363.8,739.4 368.5,729.2 370,739 C371.5,748.8 371.5,788.2 370,798 C368.5,807.8 364.9,797.8 361,797.7 C357.1,797.7 351.5,797.8 346.9,797.7 C342.3,797.6 336.5,797.9 333.6,797 C330.7,796.1 330.9,794.6 329.7,792.3 C328.5,789.9 327.8,785.8 326.6,782.9 C325.4,780 324,778 322.7,775.1 C321.4,772.2 319.8,768.6 318.8,765.7 C317.8,762.8 317.1,760.4 316.8,757.9 C316.5,755.4 316.6,752.5 317.2,750.8Z" fill="#E48D38" filter="url(#b1)"/>
<circle cx="149" cy="1026.8" r="6" fill="#B03A10" filter="url(#b1)"/>
<circle cx="120.6" cy="1011.7" r="4" fill="#B03A10" filter="url(#b1)"/>
<circle cx="88.7" cy="886" r="4" fill="#B03A10" filter="url(#b1)"/>
<circle cx="329.9" cy="990" r="4" fill="#B03A10" filter="url(#b1)"/>
</g>
<g clip-path="url(#c12)">
<rect x="364.7" y="724.9" width="365" height="365" fill="#7E0C02"/>
<path d="M502,856 L512,862 L502,885 L498,930 L486,934 L467,918 L472,904 L486,886 L495,870 Z" fill="#6C0600" opacity="0.55" filter="url(#b2)"/>
<path d="M363,722 L537.2,722 L537.2,725.4 L537.9,742.1 L537.2,762.2 L532.2,785.7 L523.8,805.7 L513.8,825.9 L507,840 L502,852 L499,862 L493,874 L486,885 L476,895 L468,907 L462,920 L446.8,943.1 L433.4,963.2 L420,983.3 L406.6,1000 L389.8,1016.8 L373.1,1026.8 L363,1031.9Z" fill="#A32A02" filter="url(#b05)"/>
<path d="M496.4,917.3 C496,914 496.6,910.8 497.5,906.2 C498.4,901.6 500.4,894.9 501.9,889.7 C503.4,884.6 504.5,879.3 506.4,875.3 C508.2,871.2 510.4,867.6 513,865.4 C515.6,863.2 517.8,862.8 521.8,862.1 C525.8,861.4 532,860.8 537.3,861 C542.6,861.2 548.3,862.3 553.8,863.2 C559.3,864.1 565.8,865 570.4,866.5 C575,868 578.1,870.2 581.4,872 C584.7,873.8 588,875.1 590.2,877.5 C592.4,879.9 594.1,882.9 594.7,886.4 C595.3,889.9 594.4,894.3 593.6,898.5 C592.9,902.7 591.3,907.5 590.2,911.7 C589.1,915.9 588.2,920 586.9,923.9 C585.6,927.8 584.3,931.6 582.5,934.9 C580.7,938.2 578.3,941.9 575.9,943.8 C573.5,945.6 571.9,945.8 568.2,946 C564.5,946.2 558.9,945.6 553.8,944.9 C548.6,944.1 542.8,942.8 537.3,941.5 C531.8,940.2 525.7,938.8 520.7,937.1 C515.7,935.5 511,933.4 507.5,931.6 C504,929.8 501.6,928.5 499.7,926.1 C497.8,923.7 496.8,920.6 496.4,917.3Z" fill="#E48D38" filter="url(#b1)"/>
</g>
<g font-family="'Liberation Sans', sans-serif" font-size="33" fill="#fff" lengthAdjust="spacingAndGlyphs">
<text x="20.6" y="344.7" textLength="39.5" lengthAdjust="spacingAndGlyphs">RT</text>
<text x="379" y="346.3" textLength="84.6" lengthAdjust="spacingAndGlyphs">503 K</text>
<text x="20.3" y="705.3" textLength="84.6" lengthAdjust="spacingAndGlyphs">522 K</text>
<text x="379.9" y="705.3" textLength="84.6" lengthAdjust="spacingAndGlyphs">534 K</text>
<text x="19.3" y="1066.6" textLength="84.6" lengthAdjust="spacingAndGlyphs">579 K</text>
<text x="378.9" y="1065.6" textLength="84.6" lengthAdjust="spacingAndGlyphs">597 K</text>
</g>
<text x="7" y="45.5" font-family="'Liberation Sans', sans-serif" font-size="47" fill="#fff" textLength="66" lengthAdjust="spacingAndGlyphs">(a)</text>
<defs><clipPath id="p1"><rect x="863.5" y="33" width="951" height="314.7"/></clipPath><clipPath id="p2"><rect x="863.5" y="347.7" width="951" height="314.8"/></clipPath></defs><g stroke="#1f77b4" stroke-width="3.0" fill="none">
<line x1="878.8" y1="137.9" x2="906.9" y2="137.9"/>
<line x1="878.8" y1="132.9" x2="878.8" y2="142.9" stroke-width="2.6"/>
<line x1="906.9" y1="132.9" x2="906.9" y2="142.9" stroke-width="2.6"/>
<line x1="892.8" y1="88.8" x2="892.8" y2="187"/>
<line x1="887.8" y1="88.8" x2="897.8" y2="88.8" stroke-width="2.6"/>
<line x1="887.8" y1="187" x2="897.8" y2="187" stroke-width="2.6"/>
<line x1="887.8" y1="96" x2="897.8" y2="96" stroke-width="2.6"/>
<line x1="887.8" y1="179.9" x2="897.8" y2="179.9" stroke-width="2.6"/>
<line x1="1189.2" y1="165.3" x2="1238.1" y2="165.3"/>
<line x1="1189.2" y1="160.3" x2="1189.2" y2="170.3" stroke-width="2.6"/>
<line x1="1238.1" y1="160.3" x2="1238.1" y2="170.3" stroke-width="2.6"/>
<line x1="1213.9" y1="150.6" x2="1213.9" y2="180.8"/>
<line x1="1208.9" y1="150.6" x2="1218.9" y2="150.6" stroke-width="2.6"/>
<line x1="1208.9" y1="180.8" x2="1218.9" y2="180.8" stroke-width="2.6"/>
<line x1="1264.1" y1="173.5" x2="1314.7" y2="173.5"/>
<line x1="1264.1" y1="168.5" x2="1264.1" y2="178.5" stroke-width="2.6"/>
<line x1="1314.7" y1="168.5" x2="1314.7" y2="178.5" stroke-width="2.6"/>
<line x1="1289.4" y1="162.9" x2="1289.4" y2="184.5"/>
<line x1="1284.4" y1="162.9" x2="1294.4" y2="162.9" stroke-width="2.6"/>
<line x1="1284.4" y1="184.5" x2="1294.4" y2="184.5" stroke-width="2.6"/>
<line x1="1299.5" y1="171" x2="1349.3" y2="171"/>
<line x1="1299.5" y1="166" x2="1299.5" y2="176" stroke-width="2.6"/>
<line x1="1349.3" y1="166" x2="1349.3" y2="176" stroke-width="2.6"/>
<line x1="1324.4" y1="154.1" x2="1324.4" y2="186.7"/>
<line x1="1319.4" y1="154.1" x2="1329.4" y2="154.1" stroke-width="2.6"/>
<line x1="1319.4" y1="186.7" x2="1329.4" y2="186.7" stroke-width="2.6"/>
<line x1="1333.8" y1="170.2" x2="1385.6" y2="170.2"/>
<line x1="1333.8" y1="165.2" x2="1333.8" y2="175.2" stroke-width="2.6"/>
<line x1="1385.6" y1="165.2" x2="1385.6" y2="175.2" stroke-width="2.6"/>
<line x1="1360" y1="152.4" x2="1360" y2="186.7"/>
<line x1="1355" y1="152.4" x2="1365" y2="152.4" stroke-width="2.6"/>
<line x1="1355" y1="186.7" x2="1365" y2="186.7" stroke-width="2.6"/>
<line x1="1408.3" y1="167.9" x2="1462.1" y2="167.9"/>
<line x1="1408.3" y1="162.9" x2="1408.3" y2="172.9" stroke-width="2.6"/>
<line x1="1462.1" y1="162.9" x2="1462.1" y2="172.9" stroke-width="2.6"/>
<line x1="1435.1" y1="138.6" x2="1435.1" y2="197.9"/>
<line x1="1430.1" y1="138.6" x2="1440.1" y2="138.6" stroke-width="2.6"/>
<line x1="1430.1" y1="197.9" x2="1440.1" y2="197.9" stroke-width="2.6"/>
<line x1="1454.6" y1="135.8" x2="1508.4" y2="135.8"/>
<line x1="1454.6" y1="130.8" x2="1454.6" y2="140.8" stroke-width="2.6"/>
<line x1="1508.4" y1="130.8" x2="1508.4" y2="140.8" stroke-width="2.6"/>
<line x1="1481.6" y1="98.3" x2="1481.6" y2="173.3"/>
<line x1="1476.6" y1="98.3" x2="1486.6" y2="98.3" stroke-width="2.6"/>
<line x1="1476.6" y1="173.3" x2="1486.6" y2="173.3" stroke-width="2.6"/>
<line x1="1483.6" y1="165.6" x2="1538.7" y2="165.6"/>
<line x1="1483.6" y1="160.6" x2="1483.6" y2="170.6" stroke-width="2.6"/>
<line x1="1538.7" y1="160.6" x2="1538.7" y2="170.6" stroke-width="2.6"/>
<line x1="1510.9" y1="128.1" x2="1510.9" y2="204.3"/>
<line x1="1505.9" y1="128.1" x2="1515.9" y2="128.1" stroke-width="2.6"/>
<line x1="1505.9" y1="204.3" x2="1515.9" y2="204.3" stroke-width="2.6"/>
<line x1="1558.1" y1="116.2" x2="1615.7" y2="116.2"/>
<line x1="1558.1" y1="111.2" x2="1558.1" y2="121.2" stroke-width="2.6"/>
<line x1="1615.7" y1="111.2" x2="1615.7" y2="121.2" stroke-width="2.6"/>
<line x1="1587.1" y1="66.2" x2="1587.1" y2="166.7"/>
<line x1="1582.1" y1="66.2" x2="1592.1" y2="66.2" stroke-width="2.6"/>
<line x1="1582.1" y1="166.7" x2="1592.1" y2="166.7" stroke-width="2.6"/>
<line x1="1592.9" y1="132" x2="1651.4" y2="132"/>
<line x1="1592.9" y1="127" x2="1592.9" y2="137" stroke-width="2.6"/>
<line x1="1651.4" y1="127" x2="1651.4" y2="137" stroke-width="2.6"/>
<line x1="1622" y1="95.9" x2="1622" y2="169.2"/>
<line x1="1617" y1="95.9" x2="1627" y2="95.9" stroke-width="2.6"/>
<line x1="1617" y1="169.2" x2="1627" y2="169.2" stroke-width="2.6"/>
<line x1="1627.9" y1="202" x2="1685.9" y2="202"/>
<line x1="1627.9" y1="197" x2="1627.9" y2="207" stroke-width="2.6"/>
<line x1="1685.9" y1="197" x2="1685.9" y2="207" stroke-width="2.6"/>
<line x1="1657.1" y1="173.2" x2="1657.1" y2="232.5"/>
<line x1="1652.1" y1="173.2" x2="1662.1" y2="173.2" stroke-width="2.6"/>
<line x1="1652.1" y1="232.5" x2="1662.1" y2="232.5" stroke-width="2.6"/>
<line x1="1662" y1="182.1" x2="1721.6" y2="182.1"/>
<line x1="1662" y1="177.1" x2="1662" y2="187.1" stroke-width="2.6"/>
<line x1="1721.6" y1="177.1" x2="1721.6" y2="187.1" stroke-width="2.6"/>
<line x1="1691.8" y1="152.3" x2="1691.8" y2="213.6"/>
<line x1="1686.8" y1="152.3" x2="1696.8" y2="152.3" stroke-width="2.6"/>
<line x1="1686.8" y1="213.6" x2="1696.8" y2="213.6" stroke-width="2.6"/>
<line x1="1696.8" y1="226.2" x2="1757.1" y2="226.2"/>
<line x1="1696.8" y1="221.2" x2="1696.8" y2="231.2" stroke-width="2.6"/>
<line x1="1757.1" y1="221.2" x2="1757.1" y2="231.2" stroke-width="2.6"/>
<line x1="1726.6" y1="202.6" x2="1726.6" y2="249"/>
<line x1="1721.6" y1="202.6" x2="1731.6" y2="202.6" stroke-width="2.6"/>
<line x1="1721.6" y1="249" x2="1731.6" y2="249" stroke-width="2.6"/>
<line x1="1731.6" y1="253.6" x2="1792.8" y2="253.6"/>
<line x1="1731.6" y1="248.6" x2="1731.6" y2="258.6" stroke-width="2.6"/>
<line x1="1792.8" y1="248.6" x2="1792.8" y2="258.6" stroke-width="2.6"/>
<line x1="1761.4" y1="229.5" x2="1761.4" y2="276.5"/>
<line x1="1756.4" y1="229.5" x2="1766.4" y2="229.5" stroke-width="2.6"/>
<line x1="1756.4" y1="276.5" x2="1766.4" y2="276.5" stroke-width="2.6"/>
<g clip-path="url(#p1)">
<line x1="1765.3" y1="347.7" x2="1814.5" y2="347.7"/>
<line x1="1765.3" y1="342.7" x2="1765.3" y2="352.7" stroke-width="2.6"/>
</g>
<line x1="879.2" y1="453" x2="907" y2="453"/>
<line x1="879.2" y1="448" x2="879.2" y2="458" stroke-width="2.6"/>
<line x1="907" y1="448" x2="907" y2="458" stroke-width="2.6"/>
<line x1="892.8" y1="359.2" x2="892.8" y2="546.5"/>
<line x1="887.8" y1="359.2" x2="897.8" y2="359.2" stroke-width="2.6"/>
<line x1="887.8" y1="546.5" x2="897.8" y2="546.5" stroke-width="2.6"/>
<line x1="887.8" y1="369" x2="897.8" y2="369" stroke-width="2.6"/>
<line x1="887.8" y1="379.5" x2="897.8" y2="379.5" stroke-width="2.6"/>
<line x1="887.8" y1="525.2" x2="897.8" y2="525.2" stroke-width="2.6"/>
<line x1="887.8" y1="536.4" x2="897.8" y2="536.4" stroke-width="2.6"/>
<line x1="1189.4" y1="490.7" x2="1238" y2="490.7"/>
<line x1="1189.4" y1="485.7" x2="1189.4" y2="495.7" stroke-width="2.6"/>
<line x1="1238" y1="485.7" x2="1238" y2="495.7" stroke-width="2.6"/>
<line x1="1213.7" y1="431.8" x2="1213.7" y2="549.4"/>
<line x1="1208.7" y1="431.8" x2="1218.7" y2="431.8" stroke-width="2.6"/>
<line x1="1208.7" y1="549.4" x2="1218.7" y2="549.4" stroke-width="2.6"/>
<line x1="1264.5" y1="455.4" x2="1314.6" y2="455.4"/>
<line x1="1264.5" y1="450.4" x2="1264.5" y2="460.4" stroke-width="2.6"/>
<line x1="1314.6" y1="450.4" x2="1314.6" y2="460.4" stroke-width="2.6"/>
<line x1="1289.2" y1="380.3" x2="1289.2" y2="530"/>
<line x1="1284.2" y1="380.3" x2="1294.2" y2="380.3" stroke-width="2.6"/>
<line x1="1284.2" y1="530" x2="1294.2" y2="530" stroke-width="2.6"/>
<line x1="1299.2" y1="490.7" x2="1350.4" y2="490.7"/>
<line x1="1299.2" y1="485.7" x2="1299.2" y2="495.7" stroke-width="2.6"/>
<line x1="1350.4" y1="485.7" x2="1350.4" y2="495.7" stroke-width="2.6"/>
<line x1="1324.1" y1="435.7" x2="1324.1" y2="545.5"/>
<line x1="1319.1" y1="435.7" x2="1329.1" y2="435.7" stroke-width="2.6"/>
<line x1="1319.1" y1="545.5" x2="1329.1" y2="545.5" stroke-width="2.6"/>
<line x1="1333.4" y1="458.9" x2="1385.9" y2="458.9"/>
<line x1="1333.4" y1="453.9" x2="1333.4" y2="463.9" stroke-width="2.6"/>
<line x1="1385.9" y1="453.9" x2="1385.9" y2="463.9" stroke-width="2.6"/>
<line x1="1359.4" y1="386.5" x2="1359.4" y2="530.5"/>
<line x1="1354.4" y1="386.5" x2="1364.4" y2="386.5" stroke-width="2.6"/>
<line x1="1354.4" y1="530.5" x2="1364.4" y2="530.5" stroke-width="2.6"/>
<line x1="1408.4" y1="450.2" x2="1462.2" y2="450.2"/>
<line x1="1408.4" y1="445.2" x2="1408.4" y2="455.2" stroke-width="2.6"/>
<line x1="1462.2" y1="445.2" x2="1462.2" y2="455.2" stroke-width="2.6"/>
<line x1="1435.4" y1="352.5" x2="1435.4" y2="547.8"/>
<line x1="1430.4" y1="352.5" x2="1440.4" y2="352.5" stroke-width="2.6"/>
<line x1="1430.4" y1="547.8" x2="1440.4" y2="547.8" stroke-width="2.6"/>
<line x1="1454.6" y1="544.3" x2="1509.6" y2="544.3"/>
<line x1="1454.6" y1="539.3" x2="1454.6" y2="549.3" stroke-width="2.6"/>
<line x1="1509.6" y1="539.3" x2="1509.6" y2="549.3" stroke-width="2.6"/>
<line x1="1481.8" y1="479.6" x2="1481.8" y2="609.6"/>
<line x1="1476.8" y1="479.6" x2="1486.8" y2="479.6" stroke-width="2.6"/>
<line x1="1476.8" y1="609.6" x2="1486.8" y2="609.6" stroke-width="2.6"/>
<line x1="1483.3" y1="501.9" x2="1538.8" y2="501.9"/>
<line x1="1483.3" y1="496.9" x2="1483.3" y2="506.9" stroke-width="2.6"/>
<line x1="1538.8" y1="496.9" x2="1538.8" y2="506.9" stroke-width="2.6"/>
<line x1="1510.8" y1="437.8" x2="1510.8" y2="565.8"/>
<line x1="1505.8" y1="437.8" x2="1515.8" y2="437.8" stroke-width="2.6"/>
<line x1="1505.8" y1="565.8" x2="1515.8" y2="565.8" stroke-width="2.6"/>
<line x1="1557.9" y1="390" x2="1616.1" y2="390"/>
<line x1="1557.9" y1="385" x2="1557.9" y2="395" stroke-width="2.6"/>
<line x1="1616.1" y1="385" x2="1616.1" y2="395" stroke-width="2.6"/>
<line x1="1587" y1="347.7" x2="1587" y2="494.4"/>
<line x1="1582" y1="494.4" x2="1592" y2="494.4" stroke-width="2.6"/>
<line x1="1593.2" y1="485" x2="1651.2" y2="485"/>
<line x1="1593.2" y1="480" x2="1593.2" y2="490" stroke-width="2.6"/>
<line x1="1651.2" y1="480" x2="1651.2" y2="490" stroke-width="2.6"/>
<line x1="1622.2" y1="413.1" x2="1622.2" y2="558"/>
<line x1="1617.2" y1="413.1" x2="1627.2" y2="413.1" stroke-width="2.6"/>
<line x1="1617.2" y1="558" x2="1627.2" y2="558" stroke-width="2.6"/>
<line x1="1628" y1="497.4" x2="1686" y2="497.4"/>
<line x1="1628" y1="492.4" x2="1628" y2="502.4" stroke-width="2.6"/>
<line x1="1686" y1="492.4" x2="1686" y2="502.4" stroke-width="2.6"/>
<line x1="1657" y1="430.5" x2="1657" y2="566.7"/>
<line x1="1652" y1="430.5" x2="1662" y2="430.5" stroke-width="2.6"/>
<line x1="1652" y1="566.7" x2="1662" y2="566.7" stroke-width="2.6"/>
<line x1="1662.4" y1="517.7" x2="1721.4" y2="517.7"/>
<line x1="1662.4" y1="512.7" x2="1662.4" y2="522.7" stroke-width="2.6"/>
<line x1="1721.4" y1="512.7" x2="1721.4" y2="522.7" stroke-width="2.6"/>
<line x1="1692" y1="470.4" x2="1692" y2="567.3"/>
<line x1="1687" y1="470.4" x2="1697" y2="470.4" stroke-width="2.6"/>
<line x1="1687" y1="567.3" x2="1697" y2="567.3" stroke-width="2.6"/>
<line x1="1696.9" y1="554.8" x2="1756.8" y2="554.8"/>
<line x1="1696.9" y1="549.8" x2="1696.9" y2="559.8" stroke-width="2.6"/>
<line x1="1756.8" y1="549.8" x2="1756.8" y2="559.8" stroke-width="2.6"/>
<line x1="1726.8" y1="511" x2="1726.8" y2="602.1"/>
<line x1="1721.8" y1="511" x2="1731.8" y2="511" stroke-width="2.6"/>
<line x1="1721.8" y1="602.1" x2="1731.8" y2="602.1" stroke-width="2.6"/>
<line x1="1731.7" y1="537.7" x2="1792.9" y2="537.7"/>
<line x1="1731.7" y1="532.7" x2="1731.7" y2="542.7" stroke-width="2.6"/>
<line x1="1792.9" y1="532.7" x2="1792.9" y2="542.7" stroke-width="2.6"/>
<line x1="1761.6" y1="493.6" x2="1761.6" y2="583.7"/>
<line x1="1756.6" y1="493.6" x2="1766.6" y2="493.6" stroke-width="2.6"/>
<line x1="1756.6" y1="583.7" x2="1766.6" y2="583.7" stroke-width="2.6"/>
<g clip-path="url(#p2)">
<line x1="1765.5" y1="662.5" x2="1814.5" y2="662.5"/>
<line x1="1765.5" y1="657.5" x2="1765.5" y2="667.5" stroke-width="2.6"/>
</g>
<line x1="879" y1="701.8" x2="906.7" y2="701.8"/>
<line x1="879" y1="696.8" x2="879" y2="706.8" stroke-width="2.6"/>
<line x1="906.7" y1="696.8" x2="906.7" y2="706.8" stroke-width="2.6"/>
<line x1="893" y1="683.8" x2="893" y2="719.1"/>
<line x1="888" y1="683.8" x2="898" y2="683.8" stroke-width="2.6"/>
<line x1="888" y1="719.1" x2="898" y2="719.1" stroke-width="2.6"/>
<line x1="1189.6" y1="706.3" x2="1238.2" y2="706.3"/>
<line x1="1189.6" y1="701.3" x2="1189.6" y2="711.3" stroke-width="2.6"/>
<line x1="1238.2" y1="701.3" x2="1238.2" y2="711.3" stroke-width="2.6"/>
<line x1="1213.8" y1="693.2" x2="1213.8" y2="719.5"/>
<line x1="1208.8" y1="693.2" x2="1218.8" y2="693.2" stroke-width="2.6"/>
<line x1="1208.8" y1="719.5" x2="1218.8" y2="719.5" stroke-width="2.6"/>
<line x1="1229.8" y1="775.2" x2="1279.3" y2="775.2"/>
<line x1="1229.8" y1="770.2" x2="1229.8" y2="780.2" stroke-width="2.6"/>
<line x1="1279.3" y1="770.2" x2="1279.3" y2="780.2" stroke-width="2.6"/>
<line x1="1254.2" y1="742.2" x2="1254.2" y2="807.2"/>
<line x1="1249.2" y1="742.2" x2="1259.2" y2="742.2" stroke-width="2.6"/>
<line x1="1249.2" y1="807.2" x2="1259.2" y2="807.2" stroke-width="2.6"/>
<line x1="1264.5" y1="800.8" x2="1314.7" y2="800.8"/>
<line x1="1264.5" y1="795.8" x2="1264.5" y2="805.8" stroke-width="2.6"/>
<line x1="1314.7" y1="795.8" x2="1314.7" y2="805.8" stroke-width="2.6"/>
<line x1="1289.1" y1="781.6" x2="1289.1" y2="819.4"/>
<line x1="1284.1" y1="781.6" x2="1294.1" y2="781.6" stroke-width="2.6"/>
<line x1="1284.1" y1="819.4" x2="1294.1" y2="819.4" stroke-width="2.6"/>
<line x1="1333.4" y1="825.9" x2="1386.5" y2="825.9"/>
<line x1="1333.4" y1="820.9" x2="1333.4" y2="830.9" stroke-width="2.6"/>
<line x1="1386.5" y1="820.9" x2="1386.5" y2="830.9" stroke-width="2.6"/>
<line x1="1359.7" y1="804.8" x2="1359.7" y2="848.6"/>
<line x1="1354.7" y1="804.8" x2="1364.7" y2="804.8" stroke-width="2.6"/>
<line x1="1354.7" y1="848.6" x2="1364.7" y2="848.6" stroke-width="2.6"/>
<line x1="1408" y1="821.1" x2="1462.3" y2="821.1"/>
<line x1="1408" y1="816.1" x2="1408" y2="826.1" stroke-width="2.6"/>
<line x1="1462.3" y1="816.1" x2="1462.3" y2="826.1" stroke-width="2.6"/>
<line x1="1435" y1="803.2" x2="1435" y2="839.8"/>
<line x1="1430" y1="803.2" x2="1440" y2="803.2" stroke-width="2.6"/>
<line x1="1430" y1="839.8" x2="1440" y2="839.8" stroke-width="2.6"/>
<line x1="1368" y1="889.3" x2="1421.1" y2="889.3"/>
<line x1="1368" y1="884.3" x2="1368" y2="894.3" stroke-width="2.6"/>
<line x1="1421.1" y1="884.3" x2="1421.1" y2="894.3" stroke-width="2.6"/>
<line x1="1394.8" y1="869" x2="1394.8" y2="911.3"/>
<line x1="1389.8" y1="869" x2="1399.8" y2="869" stroke-width="2.6"/>
<line x1="1389.8" y1="911.3" x2="1399.8" y2="911.3" stroke-width="2.6"/>
<line x1="1454.5" y1="889.4" x2="1509.5" y2="889.4"/>
<line x1="1454.5" y1="884.4" x2="1454.5" y2="894.4" stroke-width="2.6"/>
<line x1="1509.5" y1="884.4" x2="1509.5" y2="894.4" stroke-width="2.6"/>
<line x1="1481.5" y1="870.1" x2="1481.5" y2="910.5"/>
<line x1="1476.5" y1="870.1" x2="1486.5" y2="870.1" stroke-width="2.6"/>
<line x1="1476.5" y1="910.5" x2="1486.5" y2="910.5" stroke-width="2.6"/>
<line x1="1484.6" y1="881.5" x2="1539.2" y2="881.5"/>
<line x1="1484.6" y1="876.5" x2="1484.6" y2="886.5" stroke-width="2.6"/>
<line x1="1539.2" y1="876.5" x2="1539.2" y2="886.5" stroke-width="2.6"/>
<line x1="1511" y1="870.7" x2="1511" y2="893.5"/>
<line x1="1506" y1="870.7" x2="1516" y2="870.7" stroke-width="2.6"/>
<line x1="1506" y1="893.5" x2="1516" y2="893.5" stroke-width="2.6"/>
<line x1="1558.3" y1="900.2" x2="1616" y2="900.2"/>
<line x1="1558.3" y1="895.2" x2="1558.3" y2="905.2" stroke-width="2.6"/>
<line x1="1616" y1="895.2" x2="1616" y2="905.2" stroke-width="2.6"/>
<line x1="1587.3" y1="892.9" x2="1587.3" y2="908.5"/>
<line x1="1582.3" y1="892.9" x2="1592.3" y2="892.9" stroke-width="2.6"/>
<line x1="1582.3" y1="908.5" x2="1592.3" y2="908.5" stroke-width="2.6"/>
<line x1="1593.1" y1="927.6" x2="1651.6" y2="927.6"/>
<line x1="1593.1" y1="922.6" x2="1593.1" y2="932.6" stroke-width="2.6"/>
<line x1="1651.6" y1="922.6" x2="1651.6" y2="932.6" stroke-width="2.6"/>
<line x1="1622.2" y1="916.8" x2="1622.2" y2="939.2"/>
<line x1="1617.2" y1="916.8" x2="1627.2" y2="916.8" stroke-width="2.6"/>
<line x1="1617.2" y1="939.2" x2="1627.2" y2="939.2" stroke-width="2.6"/>
<line x1="1628.4" y1="923" x2="1686.5" y2="923"/>
<line x1="1628.4" y1="918" x2="1628.4" y2="928" stroke-width="2.6"/>
<line x1="1686.5" y1="918" x2="1686.5" y2="928" stroke-width="2.6"/>
<line x1="1656.8" y1="918" x2="1656.8" y2="929"/>
<line x1="1651.8" y1="918" x2="1661.8" y2="918" stroke-width="2.6"/>
<line x1="1651.8" y1="929" x2="1661.8" y2="929" stroke-width="2.6"/>
<line x1="1662" y1="931.3" x2="1721.5" y2="931.3"/>
<line x1="1662" y1="926.3" x2="1662" y2="936.3" stroke-width="2.6"/>
<line x1="1721.5" y1="926.3" x2="1721.5" y2="936.3" stroke-width="2.6"/>
<line x1="1692.1" y1="924" x2="1692.1" y2="940.2"/>
<line x1="1687.1" y1="924" x2="1697.1" y2="924" stroke-width="2.6"/>
<line x1="1687.1" y1="940.2" x2="1697.1" y2="940.2" stroke-width="2.6"/>
<line x1="1697" y1="931.3" x2="1756.5" y2="931.3"/>
<line x1="1697" y1="926.3" x2="1697" y2="936.3" stroke-width="2.6"/>
<line x1="1756.5" y1="926.3" x2="1756.5" y2="936.3" stroke-width="2.6"/>
<line x1="1726.7" y1="926" x2="1726.7" y2="937"/>
<line x1="1721.7" y1="926" x2="1731.7" y2="926" stroke-width="2.6"/>
<line x1="1721.7" y1="937" x2="1731.7" y2="937" stroke-width="2.6"/>
<line x1="1731.5" y1="932.3" x2="1793.1" y2="932.3"/>
<line x1="1731.5" y1="927.3" x2="1731.5" y2="937.3" stroke-width="2.6"/>
<line x1="1793.1" y1="927.3" x2="1793.1" y2="937.3" stroke-width="2.6"/>
<line x1="1761.6" y1="927" x2="1761.6" y2="938"/>
<line x1="1756.6" y1="927" x2="1766.6" y2="927" stroke-width="2.6"/>
<line x1="1756.6" y1="938" x2="1766.6" y2="938" stroke-width="2.6"/>
</g>
<g stroke="#000" stroke-width="2" fill="none" stroke-linecap="butt">
<line x1="862.7" y1="33.2" x2="1038.3" y2="33.2"/>
<line x1="1063.5" y1="33.2" x2="1815.3" y2="33.2"/>
<line x1="862.7" y1="347.9" x2="1038.3" y2="347.9"/>
<line x1="1063.5" y1="347.9" x2="1815.3" y2="347.9"/>
<line x1="862.7" y1="662.7" x2="1038.3" y2="662.7"/>
<line x1="1063.5" y1="662.7" x2="1815.3" y2="662.7"/>
<line x1="862.7" y1="977.3" x2="1038.3" y2="977.3"/>
<line x1="1063.5" y1="977.3" x2="1815.3" y2="977.3"/>
<line x1="863.5" y1="33.2" x2="863.5" y2="977.3"/>
<line x1="1814.5" y1="33.2" x2="1814.5" y2="977.3"/>
<line x1="855.3" y1="33" x2="863.5" y2="33"/>
<line x1="855.3" y1="137.9" x2="863.5" y2="137.9"/>
<line x1="855.3" y1="242.8" x2="863.5" y2="242.8"/>
<line x1="855.3" y1="347.7" x2="863.5" y2="347.7"/>
<line x1="855.3" y1="452.7" x2="863.5" y2="452.7"/>
<line x1="855.3" y1="557.6" x2="863.5" y2="557.6"/>
<line x1="855.3" y1="662.5" x2="863.5" y2="662.5"/>
<line x1="855.3" y1="707.6" x2="863.5" y2="707.6"/>
<line x1="855.3" y1="797.4" x2="863.5" y2="797.4"/>
<line x1="855.3" y1="887.1" x2="863.5" y2="887.1"/>
<line x1="855.3" y1="977" x2="863.5" y2="977"/>
<line x1="903.9" y1="977" x2="903.9" y2="985.2"/>
<line x1="962.7" y1="977" x2="962.7" y2="985.2"/>
<line x1="1021.4" y1="977" x2="1021.4" y2="985.2"/>
<line x1="1079.6" y1="977" x2="1079.6" y2="985.2"/>
<line x1="1137.9" y1="977" x2="1137.9" y2="985.2"/>
<line x1="1196.2" y1="977" x2="1196.2" y2="985.2"/>
<line x1="1254.5" y1="977" x2="1254.5" y2="985.2"/>
<line x1="1312.8" y1="977" x2="1312.8" y2="985.2"/>
<line x1="1371.1" y1="977" x2="1371.1" y2="985.2"/>
<line x1="1429.4" y1="977" x2="1429.4" y2="985.2"/>
<line x1="1487.7" y1="977" x2="1487.7" y2="985.2"/>
<line x1="1546" y1="977" x2="1546" y2="985.2"/>
<line x1="1604.3" y1="977" x2="1604.3" y2="985.2"/>
<line x1="1662.6" y1="977" x2="1662.6" y2="985.2"/>
<line x1="1720.9" y1="977" x2="1720.9" y2="985.2"/>
<line x1="1779.2" y1="977" x2="1779.2" y2="985.2"/>
</g>
<g stroke="#333" stroke-width="1.1" fill="none">
<line x1="1034.7" y1="47.5" x2="1045.1" y2="18.9"/>
<line x1="1058.7" y1="47.5" x2="1069.1" y2="18.9"/>
<line x1="1034.7" y1="362.2" x2="1045.1" y2="333.6"/>
<line x1="1058.7" y1="362.2" x2="1069.1" y2="333.6"/>
<line x1="1034.7" y1="677" x2="1045.1" y2="648.4"/>
<line x1="1058.7" y1="677" x2="1069.1" y2="648.4"/>
<line x1="1034.7" y1="991.6" x2="1045.1" y2="963"/>
<line x1="1058.7" y1="991.6" x2="1069.1" y2="963"/>
</g>
<g fill="#1f77b4">
<polygon points="892.8,129.2 884,146.7 901.5,146.7"/>
<polygon points="892.8,146.7 884,129.2 901.5,129.2"/>
<polygon points="1213.9,156.6 1205.2,174.1 1222.7,174.1"/>
<polygon points="1289.4,164.8 1280.7,182.2 1298.2,182.2"/>
<polygon points="1324.4,162.2 1315.7,179.8 1333.2,179.8"/>
<polygon points="1360,161.4 1351.2,178.9 1368.8,178.9"/>
<polygon points="1435.1,176.7 1426.3,159.2 1443.8,159.2"/>
<polygon points="1481.6,144.6 1472.8,127.1 1490.3,127.1"/>
<polygon points="1510.9,174.3 1502.2,156.8 1519.7,156.8"/>
<polygon points="1587.1,125 1578.3,107.5 1595.8,107.5"/>
<polygon points="1622,140.8 1613.2,123.2 1630.8,123.2"/>
<polygon points="1657.1,210.8 1648.3,193.2 1665.8,193.2"/>
<polygon points="1691.8,190.8 1683,173.3 1700.5,173.3"/>
<polygon points="1726.6,234.9 1717.8,217.4 1735.3,217.4"/>
<polygon points="1761.4,262.4 1752.7,244.8 1770.2,244.8"/>
<polygon points="1797.1,356.4 1788.3,338.9 1805.8,338.9"/>
<polygon points="892.8,444.2 884,461.8 901.5,461.8"/>
<polygon points="892.8,461.8 884,444.2 901.5,444.2"/>
<polygon points="1213.7,481.9 1205,499.4 1222.5,499.4"/>
<polygon points="1289.2,446.6 1280.5,464.1 1298,464.1"/>
<polygon points="1324.1,481.9 1315.3,499.4 1332.8,499.4"/>
<polygon points="1359.4,450.1 1350.7,467.6 1368.2,467.6"/>
<polygon points="1435.4,458.9 1426.7,441.4 1444.2,441.4"/>
<polygon points="1481.8,553 1473,535.5 1490.5,535.5"/>
<polygon points="1510.8,510.6 1502,493.1 1519.5,493.1"/>
<polygon points="1587,398.8 1578.2,381.2 1595.8,381.2"/>
<polygon points="1622.2,493.8 1613.5,476.2 1631,476.2"/>
<polygon points="1657,506.1 1648.2,488.6 1665.8,488.6"/>
<polygon points="1692,526.5 1683.2,509 1700.8,509"/>
<polygon points="1726.8,563.5 1718,546 1735.5,546"/>
<polygon points="1761.6,546.5 1752.8,529 1770.3,529"/>
<polygon points="1796.7,671.2 1788,653.8 1805.5,653.8"/>
<polygon points="893,693 884.2,710.5 901.8,710.5"/>
<polygon points="893,710.5 884.2,693 901.8,693"/>
<polygon points="1213.8,697.5 1205,715 1222.5,715"/>
<polygon points="1254.2,766.5 1245.5,784 1263,784"/>
<polygon points="1289.1,792 1280.3,809.5 1297.8,809.5"/>
<polygon points="1359.7,834.6 1351,817.1 1368.5,817.1"/>
<polygon points="1435,829.9 1426.2,812.4 1443.8,812.4"/>
<polygon points="1394.8,898 1386,880.5 1403.5,880.5"/>
<polygon points="1481.5,898.1 1472.8,880.6 1490.2,880.6"/>
<polygon points="1511,890.2 1502.2,872.8 1519.8,872.8"/>
<polygon points="1587.3,909 1578.5,891.5 1596,891.5"/>
<polygon points="1622.2,936.4 1613.5,918.9 1631,918.9"/>
<polygon points="1656.8,931.8 1648,914.2 1665.5,914.2"/>
<polygon points="1692.1,940 1683.3,922.5 1700.8,922.5"/>
<polygon points="1726.7,940 1718,922.5 1735.5,922.5"/>
<polygon points="1761.6,941 1752.8,923.5 1770.3,923.5"/>
</g>
<g font-family="'Liberation Serif', serif" font-size="33" fill="#000">
<text transform="translate(842,44.9) scale(1,1.08)" text-anchor="end">1.5</text>
<text transform="translate(842,149.8) scale(1,1.08)" text-anchor="end">1.0</text>
<text transform="translate(842,254.7) scale(1,1.08)" text-anchor="end">0.5</text>
<text transform="translate(842,359.6) scale(1,1.08)" text-anchor="end">0.0</text>
<text transform="translate(842,464.6) scale(1,1.08)" text-anchor="end">1.0</text>
<text transform="translate(842,569.5) scale(1,1.08)" text-anchor="end">0.5</text>
<text transform="translate(842,674.4) scale(1,1.08)" text-anchor="end">0.0</text>
<text transform="translate(843.8,719.7) scale(1,1.08)" text-anchor="end">0.12</text>
<text transform="translate(843.8,809.3) scale(1,1.08)" text-anchor="end">0.10</text>
<text transform="translate(843.8,899) scale(1,1.08)" text-anchor="end">0.08</text>
<text transform="translate(843.8,988.9) scale(1,1.08)" text-anchor="end">0.06</text>
<text transform="translate(903.1,1018) scale(1,1.06)" text-anchor="middle">300</text>
<text transform="translate(1195.4,1018) scale(1,1.06)" text-anchor="middle">500</text>
<text transform="translate(1486.9,1018) scale(1,1.06)" text-anchor="middle">550</text>
<text transform="translate(1778.4,1018) scale(1,1.06)" text-anchor="middle">600</text>
<text x="1337.5" y="1060.5" font-size="34" text-anchor="middle" textLength="248" lengthAdjust="spacingAndGlyphs">Temperature (K)</text>
<text transform="translate(766.7,193) rotate(-90)" text-anchor="middle" font-size="37.5" textLength="131" lengthAdjust="spacingAndGlyphs">&#920;<tspan font-size="47" dy="7">/</tspan><tspan dy="-7">&#920;</tspan><tspan font-size="26" dy="5">0</tspan><tspan dy="-5"> (1)</tspan></text>
<text transform="translate(766.7,507.5) rotate(-90)" text-anchor="middle" font-size="37.5" textLength="120" lengthAdjust="spacingAndGlyphs"><tspan font-style="italic">n</tspan><tspan font-size="47" dy="7">/</tspan><tspan font-style="italic" dy="-7">n</tspan><tspan font-size="26" dy="5">0</tspan><tspan dy="-5"> (1)</tspan></text>
<text transform="translate(766.7,821.7) rotate(-90)" text-anchor="middle" font-size="37.5" textLength="162.5" lengthAdjust="spacingAndGlyphs"><tspan font-style="italic">A</tspan><tspan font-size="26" dy="6">edge</tspan><tspan font-size="47" dy="1">/</tspan><tspan font-style="italic" dy="-7">A</tspan> (1)</text>
</g>
<text x="729.8" y="44.5" font-family="'Liberation Sans', sans-serif" font-size="46" fill="#000" textLength="66" lengthAdjust="spacingAndGlyphs">(b)</text>
</svg>
</body></html>
